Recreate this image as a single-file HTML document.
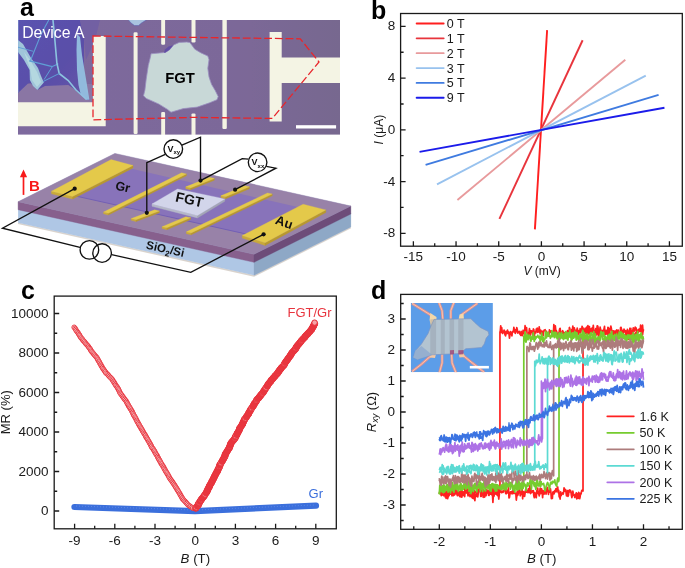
<!DOCTYPE html><html><head><meta charset="utf-8"><title>Figure</title><style>html,body{margin:0;padding:0;background:#fff;}svg{display:block;}</style></head><body>
<svg width="685" height="568" viewBox="0 0 685 568">
<rect width="685" height="568" fill="#fff"/>
<defs><clipPath id="clipPhoto"><rect x="18" y="20" width="322" height="114.8"/></clipPath><linearGradient id="gPhoto" x1="0" y1="0" x2="1" y2="0"><stop offset="0" stop-color="#7e6a9e"/><stop offset="0.65" stop-color="#7c6899"/><stop offset="1" stop-color="#77678f"/></linearGradient><linearGradient id="gGr" x1="0" y1="0" x2="1" y2="1"><stop offset="0" stop-color="#5a52b0"/><stop offset="0.6" stop-color="#5a4fa8"/><stop offset="1" stop-color="#6656a8"/></linearGradient><filter id="blurP" x="-5%" y="-5%" width="110%" height="110%"><feGaussianBlur stdDeviation="0.5"/></filter><filter id="blurAll" x="0" y="0" width="100%" height="100%"><feGaussianBlur stdDeviation="0.3"/></filter></defs>
<g clip-path="url(#clipPhoto)"><g filter="url(#blurAll)">
<rect x="18" y="20" width="322" height="114.8" fill="url(#gPhoto)"/>
<rect x="18" y="84" width="80" height="30" fill="#8a76a4"/>
<polygon points="18,20 80,20 84,40 84,70 86,90 89.6,100.2 86.3,99.8 80.8,94.8 73.3,88.6 68.3,84.9 45,86 37.3,89.9 30.5,83 28,83.6 18,93" fill="url(#gGr)"/>
<polygon points="80,20 100,20 95,40 86,60 84,40" fill="#6a5aa8" opacity="0.6"/>
<g filter="url(#blurP)" fill="none" stroke-linecap="round" stroke-linejoin="round">
<polygon points="18,40 23,44 31,58 38,68 41,76 43.8,82.6 37.3,89.9 33,86 29.9,80 29.6,70 24,60 18,52" fill="#a4cbdc" stroke="none" opacity="0.95"/>
<polygon points="24,52 30,60 37,72 41,82 37,87 32,80 30,68" fill="#bde0e2" stroke="none" opacity="0.7"/>
<path d="M18,20 V92" stroke="#8fb0dc" stroke-width="1.2" opacity="0.7"/>
<path d="M48.5,20.5 L40.9,34.6 L31.7,57.5 L30.6,60.9" stroke="#5e9fd6" stroke-width="1.1"/>
<path d="M18,47.2 L32.9,51.2" stroke="#5e9fd6" stroke-width="0.9"/>
<path d="M29.4,60.9 L52.3,66.6 L58,64" stroke="#5e9fd6" stroke-width="1.1"/>
<path d="M53,20.4 L54.6,36.9 L56.9,63.2 L59.2,73.5 L68,80.3 L76,90 L86,99" stroke="#8cc4e0" stroke-width="1.6"/>
<path d="M52.3,66.6 L44.3,79.2" stroke="#5e9fd6" stroke-width="1"/>
<path d="M59.2,73.5 L43.2,81.5" stroke="#5e9fd6" stroke-width="1"/>
<polygon points="77,34 80,37 82,55 84.5,70 86.5,82 89.4,99.8 86,99.8 80.8,94.8 78.5,85 77,70 76.5,50" fill="#94c0e0" stroke="none" opacity="0.95"/>
</g>
<polygon points="127.5,19 148,19 141.5,23 138.5,25.6 134.5,25.6 131,23" fill="#a9c3df" stroke="#5a5fb0" stroke-width="0.6"/>
<polygon points="18,102.2 92.9,102.2 92.9,36 105.7,36 105.7,126.2 18,126.2" fill="#f4f4e4"/>
<rect x="133.6" y="32.2" width="4" height="101.8" rx="1.2" fill="#f4f4e4"/>
<rect x="161.2" y="18" width="3.9" height="26.7" rx="1.2" fill="#f4f4e4"/>
<rect x="161.2" y="111.9" width="3.9" height="24.1" rx="1.2" fill="#f4f4e4"/>
<rect x="191.5" y="18" width="4" height="24.5" rx="1.2" fill="#f4f4e4"/>
<rect x="191.5" y="113.4" width="4" height="22.6" rx="1.2" fill="#f4f4e4"/>
<rect x="222.4" y="18" width="4.4" height="111" rx="1.2" fill="#f4f4e4"/>
<polygon points="269.6,31.9 281.7,31.9 281.7,57.5 342,57.5 342,83 281.7,83 281.7,121.4 269.6,121.4" fill="#f4f4e4"/>
<polygon points="151.05,53.8 165.5,52.4 169.6,49.7 173.7,44.9 179.2,42.4 186.8,42.1 189.9,42.6 194.8,49.2 201,52.9 207.8,56 209,59.7 207.8,68.3 209,76.9 211.5,84.3 215.2,90.5 218.2,96.6 217,99.7 209.6,102.8 197.3,107.1 183.3,108.6 171,112.2 167.5,109.4 158.6,103.9 146.2,98.4 143.5,95.7 144.9,90.2 146.2,79.2 148.3,65.5 150.4,57.2" fill="#c8d8d7" stroke="#9a8fc0" stroke-width="0.8"/>
<polygon points="164,53 165.5,52.4 169.6,49.7 173.2,45.2 168.5,46.5 165,49.5" fill="#5b48a8" opacity="0.8"/>
<path d="M93,36 L192,37.4 L300.3,38.8 L319,62 L272.4,118.4 L192.6,117.4 L93,119.8 Z" fill="none" stroke="#e8262c" stroke-width="1.3" stroke-dasharray="7.8 2.9"/>
<rect x="296" y="125.2" width="40.1" height="3.3" fill="#ffffff"/>
</g></g>
<text x="22.2" y="37.8" font-family='"Liberation Sans", Arial, Helvetica, sans-serif' font-size="15.8" fill="#ffffff">Device A</text>
<text x="165.3" y="83.3" font-family='"Liberation Sans", Arial, Helvetica, sans-serif' font-size="14.8" font-weight="bold" fill="#000">FGT</text>
<text x="20" y="16" font-family='"Liberation Sans", Arial, Helvetica, sans-serif' font-size="25" font-weight="bold" fill="#000">a</text>
<g font-family='"Liberation Sans", Arial, Helvetica, sans-serif'>
<path d="M18.1,223.29999999999998L254.0,275.9L350.8,227.6" stroke="#cfc8c0" stroke-width="1.6" fill="none" opacity="0.8"/>
<polygon points="18.1,201.7 114.9,153.4 350.8,206 350.8,227 254,275.3 18.1,222.7" fill="#afc7e5"/>
<polygon points="254,261.3 350.8,213 350.8,227 254,275.3" fill="#8ea8c6" stroke="#8ea8c6" stroke-width="0.3"/>
<polygon points="18.1,201.7 254,254.3 254,262.3 18.1,209.7" fill="#87608d" stroke="#87608d" stroke-width="0.4"/>
<polygon points="254,254.3 350.8,206 350.8,214 254,262.3" fill="#6d4c79" stroke="#6d4c79" stroke-width="0.4"/>
<polygon points="18.1,201.7 254,254.3 350.8,206 114.9,153.4" fill="#9882a8" stroke="#9882a8" stroke-width="0.4"/>
<polygon points="60.27,192.58 246.63,234.14 299.87,207.57 115.44,165.05" fill="#8873ba"/>
<path d="M60.265,192.58249999999998L246.62599999999998,234.13649999999998" stroke="#6f5cb4" stroke-width="0.9"/>
<polygon points="51.5,191.2 72.6,196.4 72.6,199 51.5,193.8" fill="#c9a93a" stroke="#c9a93a" stroke-width="0.4"/>
<polygon points="72.6,196.4 133,165.4 133,168 72.6,199" fill="#b8982f" stroke="#b8982f" stroke-width="0.4"/>
<polygon points="51.5,191.2 72.6,196.4 133,165.4 111.1,159.6" fill="#e4c94a" stroke="#e4c94a" stroke-width="0.3"/>
<polygon points="242.3,235.5 265.1,242.8 265.1,245.4 242.3,238.1" fill="#c9a93a" stroke="#c9a93a" stroke-width="0.4"/>
<polygon points="265.1,242.8 325.8,209.9 325.8,212.5 265.1,245.4" fill="#b8982f" stroke="#b8982f" stroke-width="0.4"/>
<polygon points="242.3,235.5 265.1,242.8 325.8,209.9 303.1,204.2" fill="#e4c94a" stroke="#e4c94a" stroke-width="0.3"/>
<polygon points="152,203.9 197.5,215.5 197.5,217.9 152,206.3" fill="#b4b7c8" stroke="#b4b7c8" stroke-width="0.4"/>
<polygon points="197.5,215.5 224.8,198.9 224.8,201.3 197.5,217.9" fill="#a3a6b6" stroke="#a3a6b6" stroke-width="0.4"/>
<polygon points="152,203.9 197.5,215.5 224.8,198.9 177.5,189" fill="#d2d5ea" stroke="#d2d5ea" stroke-width="0.3"/>
<polygon points="103.61,212.07 108.39,213.13 108.39,214.93 103.61,213.87" fill="#c9a93a" stroke="#c9a93a" stroke-width="0.4"/>
<polygon points="108.39,213.13 186.39,173.93 186.39,175.73 108.39,214.93" fill="#b8982f" stroke="#b8982f" stroke-width="0.4"/>
<polygon points="103.61,212.07 108.39,213.13 186.39,173.93 181.61,172.87" fill="#e4c94a" stroke="#e4c94a" stroke-width="0.3"/>
<polygon points="131.31,218.57 136.09,219.63 136.09,221.43 131.31,220.37" fill="#c9a93a" stroke="#c9a93a" stroke-width="0.4"/>
<polygon points="136.09,219.63 159.39,210.93 159.39,212.73 136.09,221.43" fill="#b8982f" stroke="#b8982f" stroke-width="0.4"/>
<polygon points="131.31,218.57 136.09,219.63 159.39,210.93 154.61,209.87" fill="#e4c94a" stroke="#e4c94a" stroke-width="0.3"/>
<polygon points="185.81,186.87 190.59,187.93 190.59,189.73 185.81,188.67" fill="#c9a93a" stroke="#c9a93a" stroke-width="0.4"/>
<polygon points="190.59,187.93 214.29,178.43 214.29,180.23 190.59,189.73" fill="#b8982f" stroke="#b8982f" stroke-width="0.4"/>
<polygon points="185.81,186.87 190.59,187.93 214.29,178.43 209.51,177.37" fill="#e4c94a" stroke="#e4c94a" stroke-width="0.3"/>
<polygon points="162.11,226.77 166.89,227.83 166.89,229.63 162.11,228.57" fill="#c9a93a" stroke="#c9a93a" stroke-width="0.4"/>
<polygon points="166.89,227.83 190.59,217.73 190.59,219.53 166.89,229.63" fill="#b8982f" stroke="#b8982f" stroke-width="0.4"/>
<polygon points="162.11,226.77 166.89,227.83 190.59,217.73 185.81,216.67" fill="#e4c94a" stroke="#e4c94a" stroke-width="0.3"/>
<polygon points="220.91,195.77 225.69,196.83 225.69,198.63 220.91,197.57" fill="#c9a93a" stroke="#c9a93a" stroke-width="0.4"/>
<polygon points="225.69,196.83 249.39,186.83 249.39,188.63 225.69,198.63" fill="#b8982f" stroke="#b8982f" stroke-width="0.4"/>
<polygon points="220.91,195.77 225.69,196.83 249.39,186.83 244.61,185.77" fill="#e4c94a" stroke="#e4c94a" stroke-width="0.3"/>
<polygon points="186.41,231.87 191.19,232.93 191.19,234.73 186.41,233.67" fill="#c9a93a" stroke="#c9a93a" stroke-width="0.4"/>
<polygon points="191.19,232.93 272.19,194.03 272.19,195.83 191.19,234.73" fill="#b8982f" stroke="#b8982f" stroke-width="0.4"/>
<polygon points="186.41,231.87 191.19,232.93 272.19,194.03 267.41,192.97" fill="#e4c94a" stroke="#e4c94a" stroke-width="0.3"/>
<text transform="translate(114.8,189.4) rotate(12.57)" font-size="12.6" font-weight="bold" fill="#111">Gr</text>
<text transform="translate(174.8,201.2) rotate(12.57)" font-size="14" font-weight="bold" fill="#111">FGT</text>
<text transform="translate(274.6,223.6) rotate(19)" font-size="13" font-weight="bold" fill="#111">Au</text>
<text transform="translate(145.6,248.5) rotate(12.57)" font-size="11.6" font-weight="bold" fill="#111">SiO<tspan font-size="8" dy="3">2</tspan><tspan dy="-3">/Si</tspan></text>
<g fill="none" stroke="#111" stroke-width="1.35">
<path d="M74.7,188.7 L2.5,228.2 L80,247.4"/>
<path d="M111.6,254.7 L190.8,272.3 L263.6,234.3"/>
<circle cx="89.4" cy="249.9" r="9.3"/>
<circle cx="102.1" cy="253" r="9.3"/>
<path d="M146.8,212.8 V162.7 L165.3,154.3"/>
<path d="M181.9,145.2 L200.5,137.2 V180.6"/>
<path d="M200.5,180.6 L242.2,158.6 L248.4,159.2"/>
<path d="M266.3,166.4 L275.9,168.2 L235.1,189.7"/>
<circle cx="173.3" cy="149" r="9.3" fill="#fff"/>
<circle cx="257.6" cy="162.3" r="9.3" fill="#fff"/>
</g>
<circle cx="74.7" cy="188.7" r="2.1" fill="#111"/>
<circle cx="263.6" cy="234.3" r="2.1" fill="#111"/>
<circle cx="146.8" cy="212.8" r="2.1" fill="#111"/>
<circle cx="200.5" cy="180.6" r="2.1" fill="#111"/>
<circle cx="235.1" cy="189.7" r="2.1" fill="#111"/>
<text x="167.5" y="152" font-size="9" font-weight="bold" fill="#111">V<tspan font-size="6" dy="2.3">xy</tspan></text>
<text x="251.6" y="165.3" font-size="9" font-weight="bold" fill="#111">V<tspan font-size="6" dy="2.3">xx</tspan></text>
<path d="M23.5,194.9 V176" stroke="#f81a1a" stroke-width="1.7"/>
<polygon points="23.5,169.6 19.9,177.2 27.1,177.2" fill="#f81a1a"/>
<text x="29.1" y="190.7" font-size="15" font-weight="bold" fill="#f81a1a">B</text>
</g>
<g font-family='"Liberation Sans", Arial, Helvetica, sans-serif'>
<text x="371" y="19.3" font-size="25" font-weight="bold" fill="#000">b</text>
<rect x="400.6" y="13.5" width="281.7" height="232.7" fill="none" stroke="#1a1a1a" stroke-width="1.3"/>
<path d="M413.38,246.2v-5M456.05,246.2v-5M498.72,246.2v-5M541.4,246.2v-5M584.07,246.2v-5M626.75,246.2v-5M669.42,246.2v-5M434.71,246.2v-3M477.39,246.2v-3M520.06,246.2v-3M562.74,246.2v-3M605.41,246.2v-3M648.09,246.2v-3M400.6,233.29h5M400.6,181.57h5M400.6,129.85h5M400.6,78.13h5M400.6,26.41h5M400.6,207.43h3M400.6,155.71h3M400.6,103.99h3M400.6,52.27h3" stroke="#1a1a1a" stroke-width="1.3" fill="none"/>
<text x="413.38" y="261.2" font-size="13.5" text-anchor="middle" fill="#1a1a1a">-15</text>
<text x="456.05" y="261.2" font-size="13.5" text-anchor="middle" fill="#1a1a1a">-10</text>
<text x="498.72" y="261.2" font-size="13.5" text-anchor="middle" fill="#1a1a1a">-5</text>
<text x="541.4" y="261.2" font-size="13.5" text-anchor="middle" fill="#1a1a1a">0</text>
<text x="584.07" y="261.2" font-size="13.5" text-anchor="middle" fill="#1a1a1a">5</text>
<text x="626.75" y="261.2" font-size="13.5" text-anchor="middle" fill="#1a1a1a">10</text>
<text x="669.42" y="261.2" font-size="13.5" text-anchor="middle" fill="#1a1a1a">15</text>
<text x="395.2" y="237.34" font-size="13.5" text-anchor="end" fill="#1a1a1a">-8</text>
<text x="395.2" y="185.62" font-size="13.5" text-anchor="end" fill="#1a1a1a">-4</text>
<text x="395.2" y="133.9" font-size="13.5" text-anchor="end" fill="#1a1a1a">0</text>
<text x="395.2" y="82.18" font-size="13.5" text-anchor="end" fill="#1a1a1a">4</text>
<text x="395.2" y="30.46" font-size="13.5" text-anchor="end" fill="#1a1a1a">8</text>
<path d="M534.91,229.41L547.12,30.16" stroke="#ff1f1f" stroke-width="1.9" fill="none"/>
<path d="M499.41,218.94L582.62,40.25" stroke="#e8343c" stroke-width="1.9" fill="none"/>
<path d="M457.42,200.06L625.3,59.77" stroke="#e89a9c" stroke-width="1.9" fill="none"/>
<path d="M437.02,184.29L645.78,75.54" stroke="#98c2ee" stroke-width="1.9" fill="none"/>
<path d="M425.58,164.89L658.59,94.94" stroke="#3f7be0" stroke-width="1.9" fill="none"/>
<path d="M419.52,151.83L664.47,107.74" stroke="#1b1bea" stroke-width="1.9" fill="none"/>
<path d="M416.6,23.5H443.7" stroke="#ff1f1f" stroke-width="1.8" stroke-linecap="round"/>
<text x="446.8" y="28" font-size="12.5" fill="#1a1a1a">0 T</text>
<path d="M416.6,38.35H443.7" stroke="#e8343c" stroke-width="1.8" stroke-linecap="round"/>
<text x="446.8" y="42.85" font-size="12.5" fill="#1a1a1a">1 T</text>
<path d="M416.6,53.2H443.7" stroke="#e89a9c" stroke-width="1.8" stroke-linecap="round"/>
<text x="446.8" y="57.7" font-size="12.5" fill="#1a1a1a">2 T</text>
<path d="M416.6,68.05H443.7" stroke="#98c2ee" stroke-width="1.8" stroke-linecap="round"/>
<text x="446.8" y="72.55" font-size="12.5" fill="#1a1a1a">3 T</text>
<path d="M416.6,82.9H443.7" stroke="#3f7be0" stroke-width="1.8" stroke-linecap="round"/>
<text x="446.8" y="87.4" font-size="12.5" fill="#1a1a1a">5 T</text>
<path d="M416.6,97.75H443.7" stroke="#1b1bea" stroke-width="1.8" stroke-linecap="round"/>
<text x="446.8" y="102.25" font-size="12.5" fill="#1a1a1a">9 T</text>
<text x="523.5" y="275.4" font-size="12" fill="#1a1a1a"><tspan font-style="italic">V</tspan> (mV)</text>
<text transform="translate(382.7,129.6) rotate(-90)" font-size="12" text-anchor="middle" fill="#1a1a1a"><tspan font-style="italic">I</tspan> (μA)</text>
</g>
<g font-family='"Liberation Sans", Arial, Helvetica, sans-serif'>
<text x="21" y="298.5" font-size="25" font-weight="bold" fill="#000">c</text>
<rect x="54.2" y="296.1" width="282.1" height="232.7" fill="none" stroke="#1a1a1a" stroke-width="1.3"/>
<path d="M74.6,528.8v-5M114.8,528.8v-5M155,528.8v-5M195.2,528.8v-5M235.4,528.8v-5M275.6,528.8v-5M315.8,528.8v-5M94.7,528.8v-3M134.9,528.8v-3M175.1,528.8v-3M215.3,528.8v-3M255.5,528.8v-3M295.7,528.8v-3M54.2,511h5M54.2,471.5h5M54.2,432h5M54.2,392.5h5M54.2,353h5M54.2,313.5h5M54.2,491.25h3M54.2,451.75h3M54.2,412.25h3M54.2,372.75h3M54.2,333.25h3" stroke="#1a1a1a" stroke-width="1.3" fill="none"/>
<text x="74.6" y="544.8" font-size="13.5" text-anchor="middle" fill="#1a1a1a">-9</text>
<text x="114.8" y="544.8" font-size="13.5" text-anchor="middle" fill="#1a1a1a">-6</text>
<text x="155" y="544.8" font-size="13.5" text-anchor="middle" fill="#1a1a1a">-3</text>
<text x="195.2" y="544.8" font-size="13.5" text-anchor="middle" fill="#1a1a1a">0</text>
<text x="235.4" y="544.8" font-size="13.5" text-anchor="middle" fill="#1a1a1a">3</text>
<text x="275.6" y="544.8" font-size="13.5" text-anchor="middle" fill="#1a1a1a">6</text>
<text x="315.8" y="544.8" font-size="13.5" text-anchor="middle" fill="#1a1a1a">9</text>
<text x="48.6" y="515.05" font-size="13.5" text-anchor="end" fill="#1a1a1a">0</text>
<text x="48.6" y="475.55" font-size="13.5" text-anchor="end" fill="#1a1a1a">2000</text>
<text x="48.6" y="436.05" font-size="13.5" text-anchor="end" fill="#1a1a1a">4000</text>
<text x="48.6" y="396.55" font-size="13.5" text-anchor="end" fill="#1a1a1a">6000</text>
<text x="48.6" y="357.05" font-size="13.5" text-anchor="end" fill="#1a1a1a">8000</text>
<text x="48.6" y="317.55" font-size="13.5" text-anchor="end" fill="#1a1a1a">10000</text>
<path d="M74.4,507 L195,511.2 L316,505.6" stroke="#3b6fdc" stroke-width="6.2" stroke-linecap="round" stroke-linejoin="round" fill="none"/>
<path d="M76,506 L195,510 L314,505" stroke="#7fa3ec" stroke-width="0.8" stroke-dasharray="1 2" fill="none" opacity="0.6"/>
<g fill="#fff6f6" stroke="#e8343e" stroke-width="0.95"><circle cx="74.17" cy="327.29" r="2.3"/><circle cx="75.04" cy="328.31" r="2.3"/><circle cx="75.74" cy="329.4" r="2.3"/><circle cx="76.25" cy="330.6" r="2.3"/><circle cx="77.13" cy="331.62" r="2.3"/><circle cx="77.91" cy="332.6" r="2.3"/><circle cx="78.51" cy="333.68" r="2.3"/><circle cx="79.17" cy="334.66" r="2.3"/><circle cx="79.76" cy="335.74" r="2.3"/><circle cx="80.44" cy="336.96" r="2.3"/><circle cx="81.17" cy="337.91" r="2.3"/><circle cx="82.08" cy="338.85" r="2.3"/><circle cx="82.7" cy="339.9" r="2.3"/><circle cx="83.5" cy="340.86" r="2.3"/><circle cx="84.5" cy="341.73" r="2.3"/><circle cx="85.26" cy="342.84" r="2.3"/><circle cx="85.98" cy="343.82" r="2.3"/><circle cx="86.82" cy="344.72" r="2.3"/><circle cx="87.75" cy="345.69" r="2.3"/><circle cx="88.49" cy="346.69" r="2.3"/><circle cx="89.16" cy="347.7" r="2.3"/><circle cx="89.94" cy="348.64" r="2.3"/><circle cx="90.59" cy="349.81" r="2.3"/><circle cx="91.21" cy="350.95" r="2.3"/><circle cx="91.92" cy="351.8" r="2.3"/><circle cx="92.76" cy="352.86" r="2.3"/><circle cx="93.61" cy="353.87" r="2.3"/><circle cx="94.44" cy="354.85" r="2.3"/><circle cx="95.22" cy="355.85" r="2.3"/><circle cx="96.13" cy="356.74" r="2.3"/><circle cx="96.86" cy="357.73" r="2.3"/><circle cx="97.53" cy="358.9" r="2.3"/><circle cx="98.02" cy="359.97" r="2.3"/><circle cx="98.77" cy="361.09" r="2.3"/><circle cx="99.33" cy="362.03" r="2.3"/><circle cx="99.9" cy="363.25" r="2.3"/><circle cx="100.63" cy="364.32" r="2.3"/><circle cx="101.13" cy="365.42" r="2.3"/><circle cx="101.76" cy="366.57" r="2.3"/><circle cx="102.45" cy="367.55" r="2.3"/><circle cx="103" cy="368.66" r="2.3"/><circle cx="103.75" cy="369.76" r="2.3"/><circle cx="104.58" cy="370.77" r="2.3"/><circle cx="105.27" cy="371.73" r="2.3"/><circle cx="105.84" cy="372.96" r="2.3"/><circle cx="106.98" cy="373.64" r="2.3"/><circle cx="107.87" cy="374.65" r="2.3"/><circle cx="108.6" cy="375.56" r="2.3"/><circle cx="109.42" cy="376.51" r="2.3"/><circle cx="110.38" cy="377.43" r="2.3"/><circle cx="111.2" cy="378.24" r="2.3"/><circle cx="112.12" cy="379.21" r="2.3"/><circle cx="112.76" cy="380.28" r="2.3"/><circle cx="113.35" cy="381.4" r="2.3"/><circle cx="114.17" cy="382.32" r="2.3"/><circle cx="114.71" cy="383.51" r="2.3"/><circle cx="115.4" cy="384.56" r="2.3"/><circle cx="115.99" cy="385.58" r="2.3"/><circle cx="116.85" cy="386.66" r="2.3"/><circle cx="117.49" cy="387.71" r="2.3"/><circle cx="118.1" cy="388.77" r="2.3"/><circle cx="118.69" cy="389.88" r="2.3"/><circle cx="119.25" cy="391.03" r="2.3"/><circle cx="119.83" cy="392.25" r="2.3"/><circle cx="120.29" cy="393.3" r="2.3"/><circle cx="121.1" cy="394.25" r="2.3"/><circle cx="121.87" cy="395.28" r="2.3"/><circle cx="122.55" cy="396.47" r="2.3"/><circle cx="123.41" cy="397.32" r="2.3"/><circle cx="124.03" cy="398.4" r="2.3"/><circle cx="124.7" cy="399.45" r="2.3"/><circle cx="125.61" cy="400.4" r="2.3"/><circle cx="126.43" cy="401.47" r="2.3"/><circle cx="126.88" cy="402.66" r="2.3"/><circle cx="127.5" cy="403.73" r="2.3"/><circle cx="128.13" cy="404.87" r="2.3"/><circle cx="128.63" cy="406" r="2.3"/><circle cx="129.45" cy="407.01" r="2.3"/><circle cx="130.01" cy="408.09" r="2.3"/><circle cx="130.7" cy="409.13" r="2.3"/><circle cx="131.43" cy="410.32" r="2.3"/><circle cx="132.05" cy="411.29" r="2.3"/><circle cx="132.52" cy="412.42" r="2.3"/><circle cx="133.06" cy="413.53" r="2.3"/><circle cx="133.55" cy="414.88" r="2.3"/><circle cx="134.23" cy="415.83" r="2.3"/><circle cx="134.96" cy="417.01" r="2.3"/><circle cx="135.46" cy="418.08" r="2.3"/><circle cx="136.18" cy="419.15" r="2.3"/><circle cx="136.63" cy="420.35" r="2.3"/><circle cx="137.17" cy="421.36" r="2.3"/><circle cx="137.83" cy="422.5" r="2.3"/><circle cx="138.48" cy="423.65" r="2.3"/><circle cx="139.01" cy="424.75" r="2.3"/><circle cx="139.65" cy="425.91" r="2.3"/><circle cx="140.35" cy="426.92" r="2.3"/><circle cx="140.94" cy="428" r="2.3"/><circle cx="141.55" cy="429.03" r="2.3"/><circle cx="142.28" cy="430.12" r="2.3"/><circle cx="142.82" cy="431.23" r="2.3"/><circle cx="143.4" cy="432.32" r="2.3"/><circle cx="144.1" cy="433.47" r="2.3"/><circle cx="144.8" cy="434.54" r="2.3"/><circle cx="145.48" cy="435.56" r="2.3"/><circle cx="145.92" cy="436.87" r="2.3"/><circle cx="146.64" cy="437.76" r="2.3"/><circle cx="147.31" cy="438.93" r="2.3"/><circle cx="147.85" cy="439.96" r="2.3"/><circle cx="148.61" cy="441.14" r="2.3"/><circle cx="149.23" cy="442.22" r="2.3"/><circle cx="149.85" cy="443.37" r="2.3"/><circle cx="150.45" cy="444.32" r="2.3"/><circle cx="151.05" cy="445.45" r="2.3"/><circle cx="151.44" cy="446.64" r="2.3"/><circle cx="152.15" cy="447.8" r="2.3"/><circle cx="153" cy="448.77" r="2.3"/><circle cx="153.7" cy="449.96" r="2.3"/><circle cx="154.33" cy="450.89" r="2.3"/><circle cx="154.92" cy="452.02" r="2.3"/><circle cx="155.5" cy="453.22" r="2.3"/><circle cx="156.15" cy="454.27" r="2.3"/><circle cx="156.9" cy="455.26" r="2.3"/><circle cx="157.47" cy="456.46" r="2.3"/><circle cx="157.99" cy="457.6" r="2.3"/><circle cx="158.57" cy="458.72" r="2.3"/><circle cx="159.15" cy="459.72" r="2.3"/><circle cx="159.86" cy="460.87" r="2.3"/><circle cx="160.37" cy="461.96" r="2.3"/><circle cx="161.03" cy="463.16" r="2.3"/><circle cx="161.71" cy="464.11" r="2.3"/><circle cx="162.36" cy="465.35" r="2.3"/><circle cx="163.16" cy="466.28" r="2.3"/><circle cx="163.72" cy="467.34" r="2.3"/><circle cx="164.18" cy="468.51" r="2.3"/><circle cx="164.92" cy="469.54" r="2.3"/><circle cx="165.43" cy="470.76" r="2.3"/><circle cx="166.07" cy="471.85" r="2.3"/><circle cx="166.79" cy="472.81" r="2.3"/><circle cx="167.36" cy="474.01" r="2.3"/><circle cx="168.18" cy="475.06" r="2.3"/><circle cx="168.67" cy="476.14" r="2.3"/><circle cx="169.2" cy="477.22" r="2.3"/><circle cx="169.91" cy="478.43" r="2.3"/><circle cx="170.62" cy="479.48" r="2.3"/><circle cx="171.4" cy="480.47" r="2.3"/><circle cx="172.2" cy="481.47" r="2.3"/><circle cx="172.83" cy="482.52" r="2.3"/><circle cx="173.41" cy="483.56" r="2.3"/><circle cx="174.27" cy="484.58" r="2.3"/><circle cx="174.85" cy="485.73" r="2.3"/><circle cx="175.54" cy="486.76" r="2.3"/><circle cx="176.17" cy="487.84" r="2.3"/><circle cx="176.93" cy="488.93" r="2.3"/><circle cx="177.43" cy="490" r="2.3"/><circle cx="178.19" cy="490.99" r="2.3"/><circle cx="178.78" cy="492.1" r="2.3"/><circle cx="179.63" cy="493.31" r="2.3"/><circle cx="180.13" cy="494.44" r="2.3"/><circle cx="180.76" cy="495.57" r="2.3"/><circle cx="181.4" cy="496.57" r="2.3"/><circle cx="182.07" cy="497.73" r="2.3"/><circle cx="182.51" cy="498.86" r="2.3"/><circle cx="183.47" cy="499.66" r="2.3"/><circle cx="184.3" cy="500.65" r="2.3"/><circle cx="185.18" cy="501.5" r="2.3"/><circle cx="186.01" cy="502.53" r="2.3"/><circle cx="186.76" cy="503.41" r="2.3"/><circle cx="187.58" cy="504.36" r="2.3"/><circle cx="188.6" cy="505.38" r="2.3"/><circle cx="189.77" cy="506.02" r="2.3"/><circle cx="190.61" cy="506.69" r="2.3"/><circle cx="191.71" cy="507.4" r="2.3"/><circle cx="192.65" cy="508.07" r="2.3"/><circle cx="194.11" cy="508.35" r="2.3"/><circle cx="195.29" cy="508.49" r="2.3"/></g>
<g stroke="#e8343e" stroke-width="0.9"><circle cx="195.81" cy="508.27" r="3.05" fill="#ea3a41"/><circle cx="195.94" cy="507.82" r="3.05" fill="#ea3a41"/><circle cx="196.54" cy="507.08" r="3.05" fill="#f7b9bc"/><circle cx="197.34" cy="506.21" r="3.05" fill="#ea3a41"/><circle cx="198.32" cy="505.14" r="3.05" fill="#ea3a41"/><circle cx="198.75" cy="504.34" r="3.05" fill="#f7b9bc"/><circle cx="198.19" cy="504.13" r="3.05" fill="#ea3a41"/><circle cx="199.17" cy="503.01" r="3.05" fill="#ea3a41"/><circle cx="199.64" cy="502.18" r="3.05" fill="#f7b9bc"/><circle cx="199.97" cy="501.47" r="3.05" fill="#ea3a41"/><circle cx="200.53" cy="500.73" r="3.05" fill="#ea3a41"/><circle cx="201.24" cy="499.9" r="3.05" fill="#ea3a41"/><circle cx="201.49" cy="499.35" r="3.05" fill="#f7b9bc"/><circle cx="201.77" cy="498.78" r="3.05" fill="#ea3a41"/><circle cx="202.73" cy="497.8" r="3.05" fill="#ea3a41"/><circle cx="203.43" cy="496.98" r="3.05" fill="#ea3a41"/><circle cx="203.79" cy="496.37" r="3.05" fill="#ea3a41"/><circle cx="204.52" cy="495.53" r="3.05" fill="#ea3a41"/><circle cx="204.75" cy="494.99" r="3.05" fill="#ea3a41"/><circle cx="205.28" cy="494.1" r="3.05" fill="#f7b9bc"/><circle cx="205.98" cy="493.1" r="3.05" fill="#ea3a41"/><circle cx="206.91" cy="491.97" r="3.05" fill="#ea3a41"/><circle cx="206.73" cy="491.51" r="3.05" fill="#ea3a41"/><circle cx="207.67" cy="490.37" r="3.05" fill="#ea3a41"/><circle cx="207.67" cy="489.8" r="3.05" fill="#ea3a41"/><circle cx="207.9" cy="489.09" r="3.05" fill="#ea3a41"/><circle cx="208.36" cy="488.24" r="3.05" fill="#ea3a41"/><circle cx="209.2" cy="487.16" r="3.05" fill="#ea3a41"/><circle cx="209.48" cy="486.42" r="3.05" fill="#ea3a41"/><circle cx="209.32" cy="485.94" r="3.05" fill="#ea3a41"/><circle cx="210.06" cy="484.92" r="3.05" fill="#ea3a41"/><circle cx="210.66" cy="483.99" r="3.05" fill="#ea3a41"/><circle cx="211.27" cy="483.05" r="3.05" fill="#ea3a41"/><circle cx="211.91" cy="482.09" r="3.05" fill="#ea3a41"/><circle cx="211.68" cy="481.66" r="3.05" fill="#ea3a41"/><circle cx="212.55" cy="480.56" r="3.05" fill="#ea3a41"/><circle cx="212.93" cy="479.76" r="3.05" fill="#ea3a41"/><circle cx="213.16" cy="479.05" r="3.05" fill="#ea3a41"/><circle cx="214.02" cy="477.96" r="3.05" fill="#ea3a41"/><circle cx="214.09" cy="477.34" r="3.05" fill="#ea3a41"/><circle cx="214.19" cy="476.7" r="3.05" fill="#ea3a41"/><circle cx="215.08" cy="475.58" r="3.05" fill="#ea3a41"/><circle cx="215.25" cy="474.89" r="3.05" fill="#ea3a41"/><circle cx="215.76" cy="474.01" r="3.05" fill="#ea3a41"/><circle cx="216.36" cy="473.06" r="3.05" fill="#ea3a41"/><circle cx="216.53" cy="472.38" r="3.05" fill="#ea3a41"/><circle cx="217.62" cy="471.15" r="3.05" fill="#ea3a41"/><circle cx="217.52" cy="470.62" r="3.05" fill="#ea3a41"/><circle cx="217.97" cy="469.77" r="3.05" fill="#ea3a41"/><circle cx="218.37" cy="468.95" r="3.05" fill="#ea3a41"/><circle cx="218.64" cy="468.21" r="3.05" fill="#ea3a41"/><circle cx="219.3" cy="467.23" r="3.05" fill="#ea3a41"/><circle cx="219.72" cy="466.4" r="3.05" fill="#ea3a41"/><circle cx="219.58" cy="465.9" r="3.05" fill="#f7b9bc"/><circle cx="219.64" cy="465.28" r="3.05" fill="#ea3a41"/><circle cx="220.35" cy="464.27" r="3.05" fill="#ea3a41"/><circle cx="220.8" cy="463.42" r="3.05" fill="#ea3a41"/><circle cx="221.23" cy="462.58" r="3.05" fill="#f7b9bc"/><circle cx="222.06" cy="461.5" r="3.05" fill="#ea3a41"/><circle cx="222.52" cy="460.65" r="3.05" fill="#ea3a41"/><circle cx="222.76" cy="459.93" r="3.05" fill="#ea3a41"/><circle cx="223.57" cy="458.88" r="3.05" fill="#ea3a41"/><circle cx="223.75" cy="458.19" r="3.05" fill="#ea3a41"/><circle cx="224.52" cy="457.16" r="3.05" fill="#ea3a41"/><circle cx="224.85" cy="456.39" r="3.05" fill="#ea3a41"/><circle cx="225.31" cy="455.54" r="3.05" fill="#f7b9bc"/><circle cx="224.94" cy="455.19" r="3.05" fill="#ea3a41"/><circle cx="225.14" cy="454.49" r="3.05" fill="#ea3a41"/><circle cx="225.66" cy="453.61" r="3.05" fill="#ea3a41"/><circle cx="226.44" cy="452.57" r="3.05" fill="#ea3a41"/><circle cx="226.82" cy="451.77" r="3.05" fill="#ea3a41"/><circle cx="227.43" cy="450.83" r="3.05" fill="#ea3a41"/><circle cx="227.96" cy="449.93" r="3.05" fill="#ea3a41"/><circle cx="228.51" cy="449.03" r="3.05" fill="#ea3a41"/><circle cx="229.41" cy="447.92" r="3.05" fill="#ea3a41"/><circle cx="229.47" cy="447.31" r="3.05" fill="#ea3a41"/><circle cx="229.94" cy="446.45" r="3.05" fill="#ea3a41"/><circle cx="230.04" cy="445.82" r="3.05" fill="#f7b9bc"/><circle cx="230.09" cy="445.22" r="3.05" fill="#ea3a41"/><circle cx="230.6" cy="444.42" r="3.05" fill="#ea3a41"/><circle cx="230.59" cy="443.93" r="3.05" fill="#ea3a41"/><circle cx="230.98" cy="443.21" r="3.05" fill="#ea3a41"/><circle cx="231.66" cy="442.31" r="3.05" fill="#ea3a41"/><circle cx="232.46" cy="441.34" r="3.05" fill="#ea3a41"/><circle cx="233.4" cy="440.29" r="3.05" fill="#ea3a41"/><circle cx="234.1" cy="439.38" r="3.05" fill="#ea3a41"/><circle cx="235.09" cy="438.3" r="3.05" fill="#ea3a41"/><circle cx="235.16" cy="437.76" r="3.05" fill="#f7b9bc"/><circle cx="235.62" cy="437" r="3.05" fill="#ea3a41"/><circle cx="235.38" cy="436.65" r="3.05" fill="#ea3a41"/><circle cx="236.28" cy="435.63" r="3.05" fill="#f7b9bc"/><circle cx="237.04" cy="434.68" r="3.05" fill="#ea3a41"/><circle cx="236.95" cy="434.24" r="3.05" fill="#ea3a41"/><circle cx="236.97" cy="433.74" r="3.05" fill="#ea3a41"/><circle cx="237.61" cy="432.87" r="3.05" fill="#ea3a41"/><circle cx="238.11" cy="432.08" r="3.05" fill="#ea3a41"/><circle cx="238.77" cy="431.13" r="3.05" fill="#ea3a41"/><circle cx="238.97" cy="430.43" r="3.05" fill="#ea3a41"/><circle cx="239.54" cy="429.52" r="3.05" fill="#ea3a41"/><circle cx="239.39" cy="429.04" r="3.05" fill="#ea3a41"/><circle cx="239.64" cy="428.32" r="3.05" fill="#ea3a41"/><circle cx="240.59" cy="427.18" r="3.05" fill="#ea3a41"/><circle cx="240.99" cy="426.37" r="3.05" fill="#ea3a41"/><circle cx="241.86" cy="425.28" r="3.05" fill="#ea3a41"/><circle cx="242.55" cy="424.29" r="3.05" fill="#ea3a41"/><circle cx="242.73" cy="423.61" r="3.05" fill="#ea3a41"/><circle cx="242.97" cy="422.9" r="3.05" fill="#ea3a41"/><circle cx="243.11" cy="422.25" r="3.05" fill="#ea3a41"/><circle cx="243.78" cy="421.27" r="3.05" fill="#ea3a41"/><circle cx="243.98" cy="420.58" r="3.05" fill="#ea3a41"/><circle cx="244.53" cy="419.69" r="3.05" fill="#ea3a41"/><circle cx="244.63" cy="419.13" r="3.05" fill="#ea3a41"/><circle cx="245.66" cy="418.01" r="3.05" fill="#f7b9bc"/><circle cx="246.39" cy="417.06" r="3.05" fill="#ea3a41"/><circle cx="246.61" cy="416.43" r="3.05" fill="#ea3a41"/><circle cx="247.25" cy="415.55" r="3.05" fill="#ea3a41"/><circle cx="248.11" cy="414.53" r="3.05" fill="#ea3a41"/><circle cx="248.77" cy="413.63" r="3.05" fill="#ea3a41"/><circle cx="248.69" cy="413.18" r="3.05" fill="#ea3a41"/><circle cx="248.88" cy="412.56" r="3.05" fill="#ea3a41"/><circle cx="249.48" cy="411.7" r="3.05" fill="#ea3a41"/><circle cx="250.32" cy="410.69" r="3.05" fill="#ea3a41"/><circle cx="250.46" cy="410.1" r="3.05" fill="#ea3a41"/><circle cx="250.72" cy="409.44" r="3.05" fill="#ea3a41"/><circle cx="251.66" cy="408.37" r="3.05" fill="#ea3a41"/><circle cx="252" cy="407.65" r="3.05" fill="#f7b9bc"/><circle cx="252.73" cy="406.71" r="3.05" fill="#ea3a41"/><circle cx="253.46" cy="405.76" r="3.05" fill="#ea3a41"/><circle cx="253.58" cy="405.17" r="3.05" fill="#ea3a41"/><circle cx="254.37" cy="404.19" r="3.05" fill="#ea3a41"/><circle cx="254.12" cy="403.83" r="3.05" fill="#ea3a41"/><circle cx="255.17" cy="402.69" r="3.05" fill="#ea3a41"/><circle cx="255.97" cy="401.7" r="3.05" fill="#ea3a41"/><circle cx="256.41" cy="400.93" r="3.05" fill="#ea3a41"/><circle cx="256.51" cy="400.36" r="3.05" fill="#ea3a41"/><circle cx="256.91" cy="399.73" r="3.05" fill="#f7b9bc"/><circle cx="257.44" cy="399.07" r="3.05" fill="#ea3a41"/><circle cx="258.65" cy="398.02" r="3.05" fill="#ea3a41"/><circle cx="259.07" cy="397.43" r="3.05" fill="#ea3a41"/><circle cx="259.27" cy="396.98" r="3.05" fill="#ea3a41"/><circle cx="260.14" cy="396.12" r="3.05" fill="#ea3a41"/><circle cx="260.5" cy="395.57" r="3.05" fill="#ea3a41"/><circle cx="260.86" cy="395.02" r="3.05" fill="#ea3a41"/><circle cx="261.55" cy="394.28" r="3.05" fill="#ea3a41"/><circle cx="262.13" cy="393.59" r="3.05" fill="#ea3a41"/><circle cx="262.95" cy="392.77" r="3.05" fill="#f7b9bc"/><circle cx="263.48" cy="392" r="3.05" fill="#ea3a41"/><circle cx="263.42" cy="391.54" r="3.05" fill="#ea3a41"/><circle cx="264.43" cy="390.43" r="3.05" fill="#ea3a41"/><circle cx="264.58" cy="389.83" r="3.05" fill="#ea3a41"/><circle cx="265.41" cy="388.84" r="3.05" fill="#ea3a41"/><circle cx="265.8" cy="388.1" r="3.05" fill="#ea3a41"/><circle cx="266.41" cy="387.23" r="3.05" fill="#f7b9bc"/><circle cx="267.22" cy="386.24" r="3.05" fill="#ea3a41"/><circle cx="267.42" cy="385.62" r="3.05" fill="#ea3a41"/><circle cx="267.92" cy="384.82" r="3.05" fill="#ea3a41"/><circle cx="268.71" cy="383.84" r="3.05" fill="#ea3a41"/><circle cx="268.85" cy="383.25" r="3.05" fill="#ea3a41"/><circle cx="270.19" cy="382.01" r="3.05" fill="#ea3a41"/><circle cx="270.53" cy="381.47" r="3.05" fill="#ea3a41"/><circle cx="271.14" cy="380.76" r="3.05" fill="#ea3a41"/><circle cx="271.09" cy="380.45" r="3.05" fill="#ea3a41"/><circle cx="271.64" cy="379.78" r="3.05" fill="#ea3a41"/><circle cx="272.79" cy="378.75" r="3.05" fill="#ea3a41"/><circle cx="272.9" cy="378.34" r="3.05" fill="#ea3a41"/><circle cx="273.82" cy="377.45" r="3.05" fill="#ea3a41"/><circle cx="274.44" cy="376.74" r="3.05" fill="#ea3a41"/><circle cx="275.08" cy="376.02" r="3.05" fill="#ea3a41"/><circle cx="275.4" cy="375.48" r="3.05" fill="#ea3a41"/><circle cx="276.47" cy="374.49" r="3.05" fill="#ea3a41"/><circle cx="277.31" cy="373.62" r="3.05" fill="#ea3a41"/><circle cx="277.62" cy="373.06" r="3.05" fill="#ea3a41"/><circle cx="278.09" cy="372.42" r="3.05" fill="#ea3a41"/><circle cx="278.86" cy="371.58" r="3.05" fill="#f7b9bc"/><circle cx="278.77" cy="371.27" r="3.05" fill="#ea3a41"/><circle cx="279.26" cy="370.61" r="3.05" fill="#ea3a41"/><circle cx="280.05" cy="369.77" r="3.05" fill="#ea3a41"/><circle cx="280.54" cy="369.1" r="3.05" fill="#ea3a41"/><circle cx="280.91" cy="368.52" r="3.05" fill="#ea3a41"/><circle cx="281.26" cy="367.94" r="3.05" fill="#ea3a41"/><circle cx="282.2" cy="367" r="3.05" fill="#ea3a41"/><circle cx="282.96" cy="366.18" r="3.05" fill="#ea3a41"/><circle cx="283.98" cy="365.2" r="3.05" fill="#ea3a41"/><circle cx="284.33" cy="364.53" r="3.05" fill="#ea3a41"/><circle cx="284.44" cy="364" r="3.05" fill="#ea3a41"/><circle cx="284.78" cy="363.32" r="3.05" fill="#f7b9bc"/><circle cx="285.18" cy="362.61" r="3.05" fill="#ea3a41"/><circle cx="286.08" cy="361.61" r="3.05" fill="#ea3a41"/><circle cx="286.33" cy="360.99" r="3.05" fill="#ea3a41"/><circle cx="287.33" cy="359.93" r="3.05" fill="#ea3a41"/><circle cx="287.49" cy="359.36" r="3.05" fill="#ea3a41"/><circle cx="288.33" cy="358.39" r="3.05" fill="#ea3a41"/><circle cx="288.75" cy="357.67" r="3.05" fill="#ea3a41"/><circle cx="289.43" cy="356.8" r="3.05" fill="#ea3a41"/><circle cx="290.29" cy="355.84" r="3.05" fill="#ea3a41"/><circle cx="290.49" cy="355.32" r="3.05" fill="#ea3a41"/><circle cx="290.88" cy="354.68" r="3.05" fill="#ea3a41"/><circle cx="291.04" cy="354.18" r="3.05" fill="#ea3a41"/><circle cx="291.79" cy="353.33" r="3.05" fill="#ea3a41"/><circle cx="292.01" cy="352.79" r="3.05" fill="#ea3a41"/><circle cx="292.78" cy="351.92" r="3.05" fill="#ea3a41"/><circle cx="293.86" cy="350.86" r="3.05" fill="#ea3a41"/><circle cx="294.6" cy="350.02" r="3.05" fill="#ea3a41"/><circle cx="295.47" cy="349.09" r="3.05" fill="#ea3a41"/><circle cx="295.34" cy="348.77" r="3.05" fill="#ea3a41"/><circle cx="296.14" cy="347.9" r="3.05" fill="#ea3a41"/><circle cx="296.17" cy="347.49" r="3.05" fill="#f7b9bc"/><circle cx="296.62" cy="346.83" r="3.05" fill="#ea3a41"/><circle cx="296.9" cy="346.28" r="3.05" fill="#ea3a41"/><circle cx="297.53" cy="345.51" r="3.05" fill="#ea3a41"/><circle cx="298.24" cy="344.7" r="3.05" fill="#ea3a41"/><circle cx="298.89" cy="343.92" r="3.05" fill="#ea3a41"/><circle cx="299.71" cy="343.04" r="3.05" fill="#ea3a41"/><circle cx="300.3" cy="342.3" r="3.05" fill="#ea3a41"/><circle cx="300.73" cy="341.65" r="3.05" fill="#ea3a41"/><circle cx="301.07" cy="341.06" r="3.05" fill="#ea3a41"/><circle cx="302.06" cy="340.1" r="3.05" fill="#f7b9bc"/><circle cx="302.5" cy="339.51" r="3.05" fill="#ea3a41"/><circle cx="303.23" cy="338.74" r="3.05" fill="#ea3a41"/><circle cx="304.2" cy="337.84" r="3.05" fill="#ea3a41"/><circle cx="304.94" cy="337.07" r="3.05" fill="#ea3a41"/><circle cx="305.11" cy="336.64" r="3.05" fill="#ea3a41"/><circle cx="305.73" cy="335.94" r="3.05" fill="#ea3a41"/><circle cx="306.1" cy="335.4" r="3.05" fill="#ea3a41"/><circle cx="307.5" cy="334.23" r="3.05" fill="#ea3a41"/><circle cx="307.61" cy="333.84" r="3.05" fill="#ea3a41"/><circle cx="308.29" cy="333.11" r="3.05" fill="#ea3a41"/><circle cx="309.05" cy="332.33" r="3.05" fill="#ea3a41"/><circle cx="309.95" cy="331.46" r="3.05" fill="#ea3a41"/><circle cx="310.47" cy="330.74" r="3.05" fill="#ea3a41"/><circle cx="311.67" cy="329.55" r="3.05" fill="#ea3a41"/><circle cx="311.85" cy="328.98" r="3.05" fill="#ea3a41"/><circle cx="311.98" cy="328.45" r="3.05" fill="#ea3a41"/><circle cx="312.39" cy="327.74" r="3.05" fill="#ea3a41"/><circle cx="313.12" cy="326.85" r="3.05" fill="#ea3a41"/><circle cx="313.45" cy="326.19" r="3.05" fill="#ea3a41"/><circle cx="313.66" cy="325.6" r="3.05" fill="#ea3a41"/><circle cx="313.88" cy="325.01" r="3.05" fill="#ea3a41"/><circle cx="314.5" cy="324.18" r="3.05" fill="#ea3a41"/><circle cx="314.63" cy="323.64" r="3.05" fill="#ea3a41"/></g>
<circle cx="314.6" cy="322.6" r="2.7" fill="#f4a3a7" stroke="#e8343e" stroke-width="1"/>
<text x="287.5" y="317" font-size="13" fill="#e8343e">FGT/Gr</text>
<text x="308.6" y="497.6" font-size="13" fill="#3b6fdc">Gr</text>
<text x="180.6" y="563.2" font-size="13.3" fill="#1a1a1a"><tspan font-style="italic">B</tspan> (T)</text>
<text transform="translate(10.2,412.2) rotate(-90)" font-size="13" text-anchor="middle" fill="#1a1a1a">MR (%)</text>
</g>
<g font-family='"Liberation Sans", Arial, Helvetica, sans-serif'>
<text x="371" y="298.6" font-size="25" font-weight="bold" fill="#000">d</text>
<rect x="400.7" y="294.4" width="281.6" height="234.9" fill="none" stroke="#1a1a1a" stroke-width="1.3"/>
<path d="M439.3,529.3v-5M490.35,529.3v-5M541.4,529.3v-5M592.45,529.3v-5M643.5,529.3v-5M413.77,529.3v-3M464.82,529.3v-3M515.88,529.3v-3M566.92,529.3v-3M617.97,529.3v-3M669.02,529.3v-3M400.7,505h5M400.7,474h5M400.7,443h5M400.7,412h5M400.7,381h5M400.7,350h5M400.7,319h5M400.7,520.5h3M400.7,489.5h3M400.7,458.5h3M400.7,427.5h3M400.7,396.5h3M400.7,365.5h3M400.7,334.5h3M400.7,303.5h3" stroke="#1a1a1a" stroke-width="1.3" fill="none"/>
<text x="439.3" y="545.6" font-size="13.5" text-anchor="middle" fill="#1a1a1a">-2</text>
<text x="490.35" y="545.6" font-size="13.5" text-anchor="middle" fill="#1a1a1a">-1</text>
<text x="541.4" y="545.6" font-size="13.5" text-anchor="middle" fill="#1a1a1a">0</text>
<text x="592.45" y="545.6" font-size="13.5" text-anchor="middle" fill="#1a1a1a">1</text>
<text x="643.5" y="545.6" font-size="13.5" text-anchor="middle" fill="#1a1a1a">2</text>
<text x="395.1" y="509.05" font-size="13.5" text-anchor="end" fill="#1a1a1a">-3</text>
<text x="395.1" y="478.05" font-size="13.5" text-anchor="end" fill="#1a1a1a">-2</text>
<text x="395.1" y="447.05" font-size="13.5" text-anchor="end" fill="#1a1a1a">-1</text>
<text x="395.1" y="416.05" font-size="13.5" text-anchor="end" fill="#1a1a1a">0</text>
<text x="395.1" y="385.05" font-size="13.5" text-anchor="end" fill="#1a1a1a">1</text>
<text x="395.1" y="354.05" font-size="13.5" text-anchor="end" fill="#1a1a1a">2</text>
<text x="395.1" y="323.05" font-size="13.5" text-anchor="end" fill="#1a1a1a">3</text>
<path d="M439.3,493.58 L439.79,491.76 L440.27,493.16 L440.76,493.81 L441.25,495.63 L441.74,494.28 L442.22,490.39 L442.71,491.03 L443.2,489.61 L443.69,491.26 L444.17,491.37 L444.66,491.95 L445.15,497 L445.64,491.87 L446.12,491.25 L446.61,491.09 L447.1,496.81 L447.58,498.66 L448.07,496.97 L448.56,495.35 L449.05,492.82 L449.53,492.99 L450.02,491.54 L450.51,494.18 L451,492.46 L451.48,491.72 L451.97,494.27 L452.46,488.77 L452.95,490.18 L453.43,488.92 L453.92,493.32 L454.41,494.96 L454.9,494.41 L455.38,493.62 L455.87,491.43 L456.36,491.79 L456.84,493.72 L457.33,495.65 L457.82,495.07 L458.31,490.31 L458.79,494.23 L459.28,492.63 L459.77,491.67 L460.26,496.43 L460.74,493.81 L461.23,489.7 L461.72,497.22 L462.21,495.02 L462.69,493.79 L463.18,495.29 L463.67,492.28 L464.15,492.85 L464.64,496.71 L465.13,491.83 L465.62,490.78 L466.1,489.74 L466.59,488.12 L467.08,490.48 L467.57,491.82 L468.05,495.96 L468.54,492.16 L469.03,494.25 L469.52,494.46 L470,496.66 L470.49,496.54 L470.98,495.35 L471.47,490.2 L471.95,497.4 L472.44,498.05 L472.93,493.77 L473.41,489.31 L473.9,490.25 L474.39,497.07 L474.88,500.74 L475.36,494.26 L475.85,495.2 L476.34,496.49 L476.83,491.35 L477.31,489.48 L477.8,491.41 L478.29,491.75 L478.78,491.36 L479.26,488.18 L479.75,489.8 L480.24,490.55 L480.72,490.7 L481.21,496.31 L481.7,490.49 L482.19,489.6 L482.67,490.46 L483.16,497.31 L483.65,495.83 L484.14,491.5 L484.62,497.19 L485.11,494.61 L485.6,490.66 L486.09,495.62 L486.57,489.41 L487.06,490.33 L487.55,492.46 L488.04,491.84 L488.52,490.8 L489.01,491.89 L489.5,489.51 L489.98,493.56 L490.47,494.12 L490.96,490.45 L491.45,492.02 L491.93,494.88 L492.42,490.93 L492.91,488.37 L493.4,492.64 L493.88,496.38 L494.37,494.22 L494.86,493.61 L495.35,493.82 L495.83,489.4 L496.32,494.48 L496.81,489.97 L497.29,495.28 L497.78,495.61 L498.27,491.97 L498.76,489.56 L499.24,489.55 L499.73,490.9 L500.22,491.84 L500.71,492.09 L501.19,491.06 L501.68,492.72 L502.17,492.03 L502.66,491.04 L503.14,492.25 L503.63,490.6 L504.12,490.63 L504.61,486.83 L505.09,490.13 L505.58,493.1 L506.07,493.85 L506.55,493.12 L507.04,490.44 L507.53,492.95 L508.02,491.8 L508.5,487.63 L508.99,497.98 L509.48,497.29 L509.97,493.47 L510.45,491.92 L510.94,491.88 L511.43,493.63 L511.92,491.29 L512.4,491.57 L512.89,493.77 L513.38,486.65 L513.86,489.98 L514.35,493.38 L514.84,493.2 L515.33,493.48 L515.81,493.13 L516.3,500.05 L516.79,496.22 L517.28,491.13 L517.76,495.33 L518.25,493.69 L518.74,490.51 L519.23,489.81 L519.71,487.93 L520.2,495.78 L520.69,494.58 L521.17,494.18 L521.66,491.53 L522.15,489.49 L522.64,498.83 L523.12,491.69 L523.61,496.23 L524.1,491.98 L524.59,496.43 L525.07,493.37 L525.56,489.77 L526.05,492.23 L526.54,492.07 L527.02,490.42 L527.51,491.66 L528,492.63 L528.49,488.65 L528.97,488.73 L529.46,492.29 L529.95,485.35 L530.43,493.53 L530.92,490.55 L531.41,492.76 L531.9,492.38 L532.38,490.75 L532.87,491.53 L533.36,490.67 L533.85,496.12 L534.33,497.71 L534.82,492.58 L535.31,495.2 L535.8,496.16 L536.28,497.61 L536.77,490.84 L537.26,490.17 L537.74,488.06 L538.23,493.78 L538.72,493.02 L539.21,495.8 L539.69,491.6 L540.18,488.18 L540.67,493.68 L541.16,488.88 L541.64,488.94 L542.13,492.03 L542.62,497.69 L543.11,490.48 L543.59,492.28 L544.08,494.15 L544.57,492.07 L545.06,491.42 L545.54,488.35 L546.03,494.07 L546.52,490.1 L547,487.98 L547.49,487.44 L547.98,491.58 L548.47,494.31 L548.95,490.48 L549.44,491.71 L549.93,492.06 L550.42,488.73 L550.9,492.18 L551.39,498.57 L551.88,495.46 L552.37,498.39 L552.85,492.22 L553.34,491.7 L553.83,493.98 L554.31,493.08 L554.8,490.59 L555.29,491.83 L555.78,488.91 L556.26,491.7 L556.75,489.63 L557.24,487.82 L557.73,486.96 L558.21,492.72 L558.7,490.35 L559.19,496.9 L559.68,496.78 L560.16,499.06 L560.65,491.75 L561.14,495.62 L561.63,493.57 L562.11,493.43 L562.6,492.95 L563.09,494.29 L563.57,492.52 L564.06,487.88 L564.55,491.1 L565.04,490.78 L565.52,489.44 L566.01,492.2 L566.5,495.82 L566.99,495.05 L567.47,490.53 L567.96,496.34 L568.45,495.32 L568.94,490.78 L569.42,489.99 L569.91,491.81 L570.4,490.26 L570.88,491.48 L571.37,495.39 L571.86,497.57 L572.35,495.79 L572.83,491.14 L573.32,493.67 L573.81,495.31 L574.3,495.46 L574.78,497.51 L575.27,494.39 L575.76,496.26 L576.25,492.75 L576.73,498.87 L577.22,493.63 L577.71,494.61 L578.19,498.33 L578.68,492.41 L579.17,493.28 L579.66,498.68 L580.14,496.73 L580.63,493.08 L581.12,493.95 L581.61,490.95 L582.09,490.14 L582.58,490.11 L583.01,490.99 L583.01,328.02 L583.07,329.08 L583.56,329.95 L584.04,336.89 L584.53,331.12 L585.02,328.3 L585.51,331.69 L585.99,333.16 L586.48,327.25 L586.97,335.22 L587.45,331.74 L587.94,325.55 L588.43,332.52 L588.92,330.35 L589.4,326.55 L589.89,330.7 L590.38,330.14 L590.87,329.08 L591.35,333.52 L591.84,332.71 L592.33,331.45 L592.82,329.68 L593.3,331.41 L593.79,332.35 L594.28,334.8 L594.76,333.8 L595.25,330.2 L595.74,331.21 L596.23,334.02 L596.71,334.84 L597.2,325.84 L597.69,327.16 L598.18,328.88 L598.66,337.91 L599.15,332.15 L599.64,330.79 L600.13,327.21 L600.61,329.45 L601.1,331.43 L601.59,330.47 L602.08,336.68 L602.56,330.69 L603.05,330.77 L603.54,333.49 L604.02,328.97 L604.51,326.34 L605,334.01 L605.49,334.37 L605.97,331.96 L606.46,331.52 L606.95,332.92 L607.44,334.86 L607.92,327.28 L608.41,327.87 L608.9,333.92 L609.39,336.13 L609.87,328.77 L610.36,328.44 L610.85,326.15 L611.33,328.12 L611.82,333.15 L612.31,331.67 L612.8,337.61 L613.28,335.67 L613.77,333.27 L614.26,331.02 L614.75,333.64 L615.23,332.83 L615.72,331.06 L616.21,330.74 L616.7,329.95 L617.18,330.85 L617.67,332.52 L618.16,330.09 L618.65,331.31 L619.13,333.98 L619.62,334.26 L620.11,332.69 L620.59,332.51 L621.08,331.75 L621.57,331.94 L622.06,331.53 L622.54,332.23 L623.03,335.4 L623.52,331.92 L624.01,329.21 L624.49,330.03 L624.98,331.92 L625.47,330.81 L625.96,334.2 L626.44,337.67 L626.93,333.56 L627.42,334.93 L627.9,330.94 L628.39,334.55 L628.88,339.71 L629.37,337.07 L629.85,329.38 L630.34,332.23 L630.83,335.69 L631.32,335.13 L631.8,331.58 L632.29,330.58 L632.78,331.12 L633.27,327.84 L633.75,328.9 L634.24,331.14 L634.73,330.18 L635.22,327.11 L635.7,327.99 L636.19,328.11 L636.68,333.7 L637.16,332.92 L637.65,330.37 L638.14,332.3 L638.63,329.29 L639.11,329.63 L639.6,328.91 L640.09,331.65 L640.58,325.2 L641.06,326.71 L641.55,330.99 L642.04,331.47 L642.53,325.02 L643.01,330.82 L643.5,329.36" stroke="#ff2020" stroke-width="1.7" stroke-linejoin="round" fill="none"/>
<path d="M643.5,329.44 L643.01,331.23 L642.53,334.86 L642.04,332.38 L641.55,331.18 L641.06,328.79 L640.58,328.99 L640.09,331.05 L639.6,329.48 L639.11,329.84 L638.63,330.82 L638.14,331.52 L637.65,332.51 L637.16,330.36 L636.68,334.3 L636.19,334.36 L635.7,332.71 L635.22,336.08 L634.73,334.39 L634.24,338.02 L633.75,335.62 L633.27,331.6 L632.78,330.4 L632.29,331.68 L631.8,332.53 L631.32,335.91 L630.83,328.37 L630.34,329.57 L629.85,328.4 L629.37,333.26 L628.88,332.88 L628.39,337.07 L627.9,331.48 L627.42,329.39 L626.93,336.23 L626.44,333.42 L625.96,330.78 L625.47,336.29 L624.98,338.11 L624.49,336.65 L624.01,335.07 L623.52,336.63 L623.03,333.32 L622.54,331.75 L622.06,330.27 L621.57,329.64 L621.08,327.35 L620.59,327.55 L620.11,334.14 L619.62,333.99 L619.13,335.4 L618.65,335.87 L618.16,333.39 L617.67,332.42 L617.18,330.85 L616.7,335.85 L616.21,336.43 L615.72,333.4 L615.23,332.96 L614.75,333.12 L614.26,332.52 L613.77,334.17 L613.28,330.82 L612.8,330.73 L612.31,331.86 L611.82,333.74 L611.33,333 L610.85,339.48 L610.36,336.85 L609.87,333.37 L609.39,336.39 L608.9,332.8 L608.41,331.87 L607.92,335.6 L607.44,333.76 L606.95,333.37 L606.46,331.21 L605.97,330.17 L605.49,331.56 L605,334.12 L604.51,333.03 L604.02,332.5 L603.54,330.23 L603.05,330.71 L602.56,333.53 L602.08,336.04 L601.59,334.21 L601.1,334.63 L600.61,335.73 L600.13,333.44 L599.64,333.74 L599.15,332.26 L598.66,330.71 L598.18,332.72 L597.69,326.1 L597.2,331.09 L596.71,328.84 L596.23,330.75 L595.74,328.7 L595.25,337.28 L594.76,335.58 L594.28,332.44 L593.79,330.56 L593.3,325.42 L592.82,329.19 L592.33,327.8 L591.84,328.73 L591.35,328.54 L590.87,329.63 L590.38,331.71 L589.89,330.59 L589.4,334.43 L588.92,329.63 L588.43,333.98 L587.94,331.95 L587.45,326.41 L586.97,330.93 L586.48,331.64 L585.99,328.84 L585.51,331 L585.02,333.84 L584.53,331.89 L584.04,330.45 L583.56,329.68 L583.07,333.35 L582.58,327.8 L582.09,326.36 L581.61,330.27 L581.12,330.79 L580.63,332.78 L580.14,328.52 L579.66,332.83 L579.17,330.49 L578.68,332.82 L578.19,334.09 L577.71,330.75 L577.22,328.12 L576.73,330.88 L576.25,333.46 L575.76,330.31 L575.27,331.64 L574.78,331.09 L574.3,327.73 L573.81,327.75 L573.32,332.11 L572.83,326.03 L572.35,330.21 L571.86,329.41 L571.37,332.94 L570.88,332.41 L570.4,336.75 L569.91,328.73 L569.42,327.43 L568.94,333.85 L568.45,336.53 L567.96,337.65 L567.47,330.61 L566.99,332.81 L566.5,332.42 L566.01,332.96 L565.52,332.62 L565.04,335.07 L564.55,332.87 L564.06,336.06 L563.57,333.42 L563.09,331.63 L562.6,330.67 L562.11,332.23 L561.63,334.46 L561.14,332.33 L560.65,333.39 L560.16,328.31 L559.68,328.88 L559.19,331.38 L558.7,333.07 L558.21,334.19 L557.73,335.14 L557.24,333.89 L556.75,331.8 L556.26,330.6 L555.78,330.09 L555.29,325.91 L554.8,332.04 L554.31,331.99 L553.83,324.65 L553.34,334.73 L552.85,334.21 L552.37,332.23 L551.88,331.68 L551.39,330.84 L550.9,332.3 L550.42,331.14 L549.93,331.62 L549.44,329.87 L548.95,336.36 L548.47,335.65 L547.98,333.12 L547.49,335.07 L547,335.69 L546.52,331.47 L546.03,333.57 L545.54,330.81 L545.06,329.69 L544.57,330.51 L544.08,330.23 L543.59,331.76 L543.11,335.65 L542.62,333.19 L542.13,331.17 L541.64,333.16 L541.16,332.62 L540.67,330.23 L540.18,333.8 L539.69,330.87 L539.21,326.77 L538.72,331.91 L538.23,331.6 L537.74,332.29 L537.26,328.04 L536.77,329.99 L536.28,329.05 L535.8,332.95 L535.31,332.34 L534.82,332.14 L534.33,336.74 L533.85,329.64 L533.36,328.94 L532.87,335.7 L532.38,331.16 L531.9,332.11 L531.41,330.87 L530.92,330.71 L530.43,335.58 L529.95,333.65 L529.46,328.57 L528.97,332.5 L528.49,334.86 L528,336.45 L527.51,336.57 L527.02,332.5 L526.54,327.7 L526.05,329.59 L525.56,330.65 L525.07,325.72 L524.59,331.5 L524.1,333.64 L523.61,331.11 L523.12,330.3 L522.64,334.18 L522.15,335.75 L521.66,332.37 L521.17,331.47 L520.69,335.3 L520.2,333.54 L519.71,333.9 L519.23,331.37 L518.74,332.13 L518.25,332.28 L517.76,333.03 L517.28,329.55 L516.79,327.61 L516.3,331.66 L515.81,329.68 L515.33,333.32 L514.84,332.22 L514.35,330.1 L513.86,327.46 L513.38,331.66 L512.89,332.11 L512.4,331.53 L511.92,335.82 L511.43,333.12 L510.94,334.13 L510.45,331.67 L509.97,334.89 L509.48,338.09 L508.99,333.74 L508.5,331.85 L508.02,333.42 L507.53,330.1 L507.04,332.16 L506.55,333.66 L506.07,331.25 L505.58,335.92 L505.09,334.98 L504.61,332.96 L504.12,330.07 L503.63,331.86 L503.14,331.16 L502.66,333.49 L502.17,331.67 L501.68,327.53 L501.19,332.48 L500.71,325.92 L500.22,331.89 L499.95,331.94 L499.95,492.3 L499.73,489.94 L499.24,495.19 L498.76,499.04 L498.27,493.06 L497.78,490.77 L497.29,490.54 L496.81,485.18 L496.32,489.97 L495.83,491.27 L495.35,489.89 L494.86,490.95 L494.37,487.85 L493.88,494.57 L493.4,494.32 L492.91,502.33 L492.42,493.51 L491.93,493.99 L491.45,490.72 L490.96,486.5 L490.47,490.93 L489.98,492.91 L489.5,494.15 L489.01,495.42 L488.52,495.25 L488.04,491.85 L487.55,492.42 L487.06,492.52 L486.57,493.18 L486.09,490.51 L485.6,490.82 L485.11,492.59 L484.62,490.99 L484.14,492.67 L483.65,495.81 L483.16,489.88 L482.67,490.71 L482.19,494.71 L481.7,490.54 L481.21,491.23 L480.72,496.47 L480.24,489.67 L479.75,491 L479.26,489.93 L478.78,491.43 L478.29,492.8 L477.8,496.9 L477.31,491.49 L476.83,492.35 L476.34,493.44 L475.85,492.09 L475.36,492.4 L474.88,490.92 L474.39,493.24 L473.9,493.05 L473.41,498.54 L472.93,495.66 L472.44,491.91 L471.95,489.04 L471.47,492.66 L470.98,493.11 L470.49,488.75 L470,492.47 L469.52,490.8 L469.03,487.81 L468.54,491.23 L468.05,489.13 L467.57,493.61 L467.08,492.53 L466.59,492.96 L466.1,492.58 L465.62,489.8 L465.13,485.64 L464.64,492.44 L464.15,494.25 L463.67,491.96 L463.18,495.37 L462.69,492.3 L462.21,491.19 L461.72,493.09 L461.23,491.53 L460.74,496.55 L460.26,491.97 L459.77,496.67 L459.28,495.84 L458.79,495.23 L458.31,494.63 L457.82,491.14 L457.33,492.14 L456.84,493.7 L456.36,491.69 L455.87,488.35 L455.38,491.5 L454.9,491.5 L454.41,489.2 L453.92,491.07 L453.43,495.72 L452.95,487.17 L452.46,485.35 L451.97,495.85 L451.48,493.88 L451,492.08 L450.51,490.1 L450.02,490.29 L449.53,492.83 L449.05,495.65 L448.56,493.45 L448.07,490.33 L447.58,495 L447.1,496.23 L446.61,493.96 L446.12,498.32 L445.64,495.21 L445.15,494.74 L444.66,492.26 L444.17,494.56 L443.69,495.72 L443.2,494.79 L442.71,493.6 L442.22,494.86 L441.74,493.46 L441.25,491.1 L440.76,489.24 L440.27,487.32 L439.79,493.3 L439.3,494.13" stroke="#ff2020" stroke-width="1.7" stroke-linejoin="round" fill="none"/>
<path d="M439.3,494.42 L439.79,485.38 L440.27,489.16 L440.76,488.56 L441.25,486.99 L441.74,491.17 L442.22,487.89 L442.71,488.11 L443.2,492.62 L443.69,488.71 L444.17,485.29 L444.66,491.84 L445.15,487.16 L445.64,487.22 L446.12,486.57 L446.61,486.44 L447.1,484.25 L447.58,487.36 L448.07,485.56 L448.56,488.19 L449.05,486.15 L449.53,489.34 L450.02,488.54 L450.51,483.72 L451,485.45 L451.48,487.45 L451.97,490.48 L452.46,490.5 L452.95,488.05 L453.43,485.45 L453.92,485.93 L454.41,485.82 L454.9,487.17 L455.38,484.11 L455.87,487.5 L456.36,488.89 L456.84,485.73 L457.33,486.82 L457.82,487.97 L458.31,489.05 L458.79,488.56 L459.28,486.22 L459.77,486.17 L460.26,490.02 L460.74,487.1 L461.23,486.83 L461.72,489.65 L462.21,486.09 L462.69,487.62 L463.18,488.2 L463.67,485.56 L464.15,483.45 L464.64,487.78 L465.13,486.27 L465.62,489.07 L466.1,481.98 L466.59,486.8 L467.08,484.05 L467.57,487.78 L468.05,485.26 L468.54,481 L469.03,491.52 L469.52,489.43 L470,486.47 L470.49,487.04 L470.98,488.63 L471.47,482.09 L471.95,485.26 L472.44,490.47 L472.93,485.82 L473.41,490.8 L473.9,485.16 L474.39,487.74 L474.88,486.71 L475.36,483.61 L475.85,485.51 L476.34,489.8 L476.83,491.83 L477.31,485.29 L477.8,484.41 L478.29,487.99 L478.78,484.9 L479.26,484.85 L479.75,484.45 L480.24,491.53 L480.72,488.78 L481.21,484.96 L481.7,484.22 L482.19,483.61 L482.67,491.7 L483.16,487.59 L483.65,485.55 L484.14,479.81 L484.62,486.77 L485.11,487.29 L485.6,486.53 L486.09,484.18 L486.57,486.76 L487.06,483.57 L487.55,487.4 L488.04,485.92 L488.52,487.43 L489.01,486.17 L489.5,487.88 L489.98,490.63 L490.47,484.77 L490.96,484.96 L491.45,487.14 L491.93,485.89 L492.42,483.55 L492.91,487.71 L493.4,486.79 L493.88,484.89 L494.37,484.34 L494.86,486.3 L495.35,491.27 L495.83,484.43 L496.32,484.64 L496.81,485.47 L497.29,486.42 L497.78,485.35 L498.27,486.73 L498.76,488.61 L499.24,488.46 L499.73,488.04 L500.22,487.94 L500.71,489.25 L501.19,485.18 L501.68,488.77 L502.17,484.95 L502.66,487.94 L503.14,485.43 L503.63,482.13 L504.12,484.03 L504.61,486.9 L505.09,485.82 L505.58,485.23 L506.07,489.71 L506.55,488.25 L507.04,485.88 L507.53,486.72 L508.02,485.6 L508.5,483.63 L508.99,482.94 L509.48,482.38 L509.97,482.98 L510.45,485.32 L510.94,485.34 L511.43,485.96 L511.92,486.23 L512.4,485.97 L512.89,489.71 L513.38,487.37 L513.86,485.88 L514.35,487.78 L514.84,485.98 L515.33,484.09 L515.81,485.19 L516.3,479.95 L516.79,489.98 L517.28,487.02 L517.76,490.13 L518.25,484.1 L518.74,478.12 L519.23,489.1 L519.71,485.86 L520.2,483.9 L520.69,485.34 L521.17,483.63 L521.66,490.04 L522.15,484.27 L522.64,483.72 L523.12,484.4 L523.61,486.11 L524.1,483.57 L524.59,485.58 L525.07,484.41 L525.56,485.86 L526.05,490.59 L526.54,486.5 L527.02,484.68 L527.51,482.75 L528,486.2 L528.49,485.13 L528.97,483.18 L529.46,483.76 L529.95,481.19 L530.43,478.55 L530.92,484.94 L531.41,489.35 L531.9,483.77 L532.38,480.41 L532.87,480.9 L533.36,481.3 L533.85,484.96 L534.33,486.28 L534.82,482.69 L535.31,486.06 L535.8,489.29 L536.28,488.22 L536.77,479.24 L537.26,477.94 L537.74,484 L538.23,485.92 L538.72,484.09 L539.21,485.96 L539.69,481.4 L540.18,483.47 L540.67,486.57 L541.16,481.55 L541.64,484.72 L542.13,483.66 L542.62,483.91 L543.11,484.72 L543.59,483.36 L544.08,485.46 L544.57,488.94 L545.06,490.87 L545.54,489.1 L546.03,487.29 L546.52,484.91 L547,483.99 L547.49,482.46 L547.98,483.06 L548.47,485.5 L548.95,486 L549.44,489.64 L549.93,485.88 L550.42,483.11 L550.9,482.16 L551.39,483.47 L551.88,483.99 L552.37,481.37 L552.85,482.86 L553.34,481.5 L553.83,481.46 L554.31,482.35 L554.8,479.89 L555.29,483.8 L555.78,484.43 L556.26,485.72 L556.75,486.06 L557.24,480.31 L557.73,478.07 L558.21,481.69 L558.7,481.41 L559.01,479.81 L559.01,333.68 L559.19,332.82 L559.68,338.69 L560.16,338.91 L560.65,336.27 L561.14,333.05 L561.63,335.38 L562.11,338.48 L562.6,338.16 L563.09,338.82 L563.57,339.52 L564.06,333.88 L564.55,337.46 L565.04,336.94 L565.52,331.48 L566.01,332.26 L566.5,334.61 L566.99,337.67 L567.47,336.05 L567.96,332.57 L568.45,334 L568.94,332.85 L569.42,335.4 L569.91,335.13 L570.4,336.83 L570.88,335.78 L571.37,333.31 L571.86,339.34 L572.35,337.76 L572.83,336.54 L573.32,338.19 L573.81,338.04 L574.3,335.28 L574.78,331.44 L575.27,333.7 L575.76,335.13 L576.25,340.22 L576.73,333.12 L577.22,335.59 L577.71,336.6 L578.19,339.6 L578.68,337.87 L579.17,339.94 L579.66,337.66 L580.14,336 L580.63,336.59 L581.12,336.15 L581.61,338.83 L582.09,333.98 L582.58,337.69 L583.07,341.7 L583.56,338.86 L584.04,339.44 L584.53,340.23 L585.02,338.85 L585.51,336.83 L585.99,339.89 L586.48,338.21 L586.97,333.84 L587.45,334.37 L587.94,336.61 L588.43,336.59 L588.92,337.2 L589.4,337.21 L589.89,335.28 L590.38,336.75 L590.87,342.93 L591.35,338.88 L591.84,339.82 L592.33,336.28 L592.82,338.35 L593.3,337.09 L593.79,331.69 L594.28,338.07 L594.76,340.18 L595.25,341.53 L595.74,344.37 L596.23,343.95 L596.71,338.26 L597.2,339.05 L597.69,342.34 L598.18,342.37 L598.66,337.18 L599.15,339.08 L599.64,338.64 L600.13,336.78 L600.61,333.68 L601.1,331.3 L601.59,332.85 L602.08,335.52 L602.56,336.22 L603.05,332.43 L603.54,332.22 L604.02,336.47 L604.51,335.84 L605,336.08 L605.49,336.74 L605.97,338.31 L606.46,340.84 L606.95,339.63 L607.44,341.78 L607.92,335.56 L608.41,335.41 L608.9,339.68 L609.39,334.52 L609.87,334.22 L610.36,341.08 L610.85,333.84 L611.33,334.23 L611.82,331.24 L612.31,338.52 L612.8,336.34 L613.28,335.95 L613.77,336.39 L614.26,336.6 L614.75,334.48 L615.23,340.17 L615.72,341.25 L616.21,341.96 L616.7,340.1 L617.18,339.66 L617.67,337.12 L618.16,336.61 L618.65,337.05 L619.13,338.94 L619.62,338.93 L620.11,335.47 L620.59,334.9 L621.08,336.38 L621.57,337.88 L622.06,333.68 L622.54,337.75 L623.03,335.89 L623.52,334.08 L624.01,337.06 L624.49,335.26 L624.98,339.53 L625.47,335.54 L625.96,336.36 L626.44,341.04 L626.93,336.85 L627.42,339.47 L627.9,334.87 L628.39,338.36 L628.88,338.13 L629.37,336.96 L629.85,338.13 L630.34,337.02 L630.83,338.71 L631.32,336.18 L631.8,337.08 L632.29,336.84 L632.78,344.12 L633.27,336.6 L633.75,337.15 L634.24,341.82 L634.73,338.57 L635.22,336.67 L635.7,334.61 L636.19,339.34 L636.68,334.24 L637.16,336.94 L637.65,331.42 L638.14,336.07 L638.63,335.42 L639.11,337.83 L639.6,340.41 L640.09,335.7 L640.58,334.76 L641.06,332.92 L641.55,334.06 L642.04,337.95 L642.53,341.82 L643.01,340.48 L643.5,340.14" stroke="#76cc2e" stroke-width="1.7" stroke-linejoin="round" fill="none"/>
<path d="M643.5,339.62 L643.01,336.76 L642.53,336.53 L642.04,337.93 L641.55,337.26 L641.06,337.84 L640.58,337.12 L640.09,335.57 L639.6,334.58 L639.11,338.36 L638.63,341.53 L638.14,335.2 L637.65,336.55 L637.16,334.5 L636.68,340.69 L636.19,339.29 L635.7,337.98 L635.22,341.23 L634.73,339.9 L634.24,336.43 L633.75,334.5 L633.27,332.64 L632.78,338.17 L632.29,341.16 L631.8,337.29 L631.32,335.09 L630.83,336.27 L630.34,340.33 L629.85,336.38 L629.37,335.16 L628.88,335.39 L628.39,338.03 L627.9,336.86 L627.42,335.3 L626.93,338.17 L626.44,342.22 L625.96,338.04 L625.47,336.41 L624.98,337.07 L624.49,335.1 L624.01,338.16 L623.52,337.83 L623.03,338.27 L622.54,336.23 L622.06,333.08 L621.57,336.71 L621.08,332.07 L620.59,331.98 L620.11,333.78 L619.62,334.82 L619.13,332.2 L618.65,336.25 L618.16,337.29 L617.67,339.95 L617.18,336.94 L616.7,333.87 L616.21,334.96 L615.72,335.56 L615.23,337.28 L614.75,336.87 L614.26,340.7 L613.77,335.71 L613.28,337.83 L612.8,340.18 L612.31,340.01 L611.82,340.14 L611.33,336.01 L610.85,334.26 L610.36,339.72 L609.87,335.69 L609.39,334.58 L608.9,337.88 L608.41,341.11 L607.92,340.24 L607.44,339.7 L606.95,337.11 L606.46,338.07 L605.97,342.5 L605.49,338.21 L605,341.31 L604.51,336.18 L604.02,339.88 L603.54,339.71 L603.05,340.06 L602.56,339.38 L602.08,334.61 L601.59,334.29 L601.1,334.8 L600.61,335.66 L600.13,340.54 L599.64,339.45 L599.15,339.2 L598.66,340.18 L598.18,336.78 L597.69,338.86 L597.2,339.4 L596.71,340.39 L596.23,343.2 L595.74,337.45 L595.25,333.9 L594.76,335.7 L594.28,339.09 L593.79,344.4 L593.3,338.84 L592.82,334.59 L592.33,335.59 L591.84,334.32 L591.35,332.57 L590.87,332.91 L590.38,336.9 L589.89,334.39 L589.4,334.32 L588.92,340.03 L588.43,338.93 L587.94,341.13 L587.45,338.52 L586.97,336.03 L586.48,339.36 L585.99,342.81 L585.51,335.52 L585.02,335.62 L584.53,332.93 L584.04,339.05 L583.56,334.97 L583.07,331.23 L582.58,330.27 L582.09,335.47 L581.61,335.84 L581.12,337 L580.63,334.49 L580.14,333.63 L579.66,335.73 L579.17,339.94 L578.68,335.99 L578.19,337.81 L577.71,335.62 L577.22,335.87 L576.73,332.57 L576.25,332.78 L575.76,336.78 L575.27,335.99 L574.78,332.24 L574.3,336.82 L573.81,335.78 L573.32,333.59 L572.83,332.77 L572.35,334.35 L571.86,339.38 L571.37,340.74 L570.88,337.4 L570.4,336.05 L569.91,330.28 L569.42,337 L568.94,334.06 L568.45,334.08 L567.96,340.14 L567.47,339.84 L566.99,337.3 L566.5,338.18 L566.01,337.59 L565.52,335.86 L565.04,338.52 L564.55,336.14 L564.06,338.16 L563.57,338.54 L563.09,335.97 L562.6,337.94 L562.11,336.4 L561.63,332.68 L561.14,335.46 L560.65,336.72 L560.16,334.91 L559.68,337.09 L559.19,334.15 L558.7,339.13 L558.21,335.9 L557.73,337.74 L557.24,339 L556.75,333 L556.26,337.69 L555.78,332.63 L555.29,333.84 L554.8,332.22 L554.31,337.76 L553.83,334.02 L553.34,332.26 L552.85,335.63 L552.37,336.67 L551.88,330.56 L551.39,334.38 L550.9,337.01 L550.42,338.31 L549.93,336.03 L549.44,335.62 L548.95,335.88 L548.47,332.12 L547.98,336.08 L547.49,335.27 L547,332.58 L546.52,337.88 L546.03,334.4 L545.54,331.38 L545.06,338.38 L544.57,339.84 L544.08,340.12 L543.59,342.21 L543.11,337.13 L542.62,341.33 L542.13,336.75 L541.64,333 L541.16,339.48 L540.67,338.2 L540.18,341.79 L539.69,336.17 L539.21,338.24 L538.72,337.69 L538.23,336.73 L537.74,335.22 L537.26,336.97 L536.77,336.6 L536.28,337.88 L535.8,336.62 L535.31,339.43 L534.82,337.2 L534.33,341.48 L533.85,339.18 L533.36,332.52 L532.87,335.08 L532.38,339.16 L531.9,336.62 L531.41,338.9 L530.92,341.27 L530.43,339.71 L529.95,335.58 L529.46,335.21 L528.97,336.29 L528.49,338.67 L528,339.76 L527.51,334.06 L527.02,335.08 L526.54,338.36 L526.05,342.21 L525.56,341.52 L525.07,331.78 L524.59,337.84 L524.1,336.99 L523.79,336.03 L523.79,485.05 L523.61,485.54 L523.12,488.43 L522.64,488.51 L522.15,481.75 L521.66,485.8 L521.17,483.06 L520.69,488.55 L520.2,486.69 L519.71,484.81 L519.23,482.34 L518.74,486.97 L518.25,484.11 L517.76,483.79 L517.28,486.49 L516.79,484.31 L516.3,487.07 L515.81,487.67 L515.33,485.93 L514.84,492.11 L514.35,487.52 L513.86,488.36 L513.38,489.78 L512.89,487.64 L512.4,484.07 L511.92,485.91 L511.43,482.33 L510.94,487.28 L510.45,489.16 L509.97,482.64 L509.48,483.56 L508.99,482.49 L508.5,486.58 L508.02,483.77 L507.53,484.3 L507.04,483.5 L506.55,484.83 L506.07,482.31 L505.58,486.17 L505.09,488.12 L504.61,489.99 L504.12,484.03 L503.63,486.96 L503.14,488.61 L502.66,488.86 L502.17,487.73 L501.68,489.45 L501.19,487.55 L500.71,487.83 L500.22,487.74 L499.73,488.74 L499.24,486.58 L498.76,487.18 L498.27,485.95 L497.78,485.26 L497.29,484.84 L496.81,491 L496.32,488.76 L495.83,488.75 L495.35,484.87 L494.86,489.55 L494.37,488.83 L493.88,487.58 L493.4,487.33 L492.91,483.97 L492.42,486.54 L491.93,483.83 L491.45,489.06 L490.96,491.5 L490.47,484.73 L489.98,484.66 L489.5,484.52 L489.01,485.4 L488.52,484.78 L488.04,488.82 L487.55,484.68 L487.06,487.13 L486.57,484.11 L486.09,485.45 L485.6,490.97 L485.11,490.94 L484.62,484.96 L484.14,486.31 L483.65,487.38 L483.16,486.13 L482.67,487.42 L482.19,488.12 L481.7,486.74 L481.21,486.24 L480.72,482.7 L480.24,485.3 L479.75,481.54 L479.26,480.62 L478.78,480.57 L478.29,482.2 L477.8,485.01 L477.31,485.85 L476.83,486.81 L476.34,488.57 L475.85,487.46 L475.36,488.57 L474.88,483.26 L474.39,484.42 L473.9,487.22 L473.41,491.71 L472.93,488.46 L472.44,488.4 L471.95,490.05 L471.47,490.69 L470.98,493.66 L470.49,487.57 L470,487.33 L469.52,480.71 L469.03,485.22 L468.54,486.87 L468.05,483.43 L467.57,485.67 L467.08,486.27 L466.59,487.8 L466.1,488.85 L465.62,483.96 L465.13,483.75 L464.64,481.92 L464.15,486.51 L463.67,486.96 L463.18,489.37 L462.69,485.52 L462.21,490.24 L461.72,486.81 L461.23,484.48 L460.74,483.01 L460.26,488.41 L459.77,485.02 L459.28,488.48 L458.79,489.65 L458.31,491.41 L457.82,485.81 L457.33,482.92 L456.84,487.63 L456.36,489.47 L455.87,488.99 L455.38,481.8 L454.9,483.38 L454.41,487.71 L453.92,492.13 L453.43,490.68 L452.95,485.65 L452.46,482.47 L451.97,486.82 L451.48,489.2 L451,489.47 L450.51,492.98 L450.02,487.12 L449.53,490.32 L449.05,485.96 L448.56,491.54 L448.07,492.15 L447.58,488.48 L447.1,490 L446.61,486.64 L446.12,487.56 L445.64,490.79 L445.15,487.31 L444.66,485.74 L444.17,492.11 L443.69,484.77 L443.2,485.87 L442.71,485.57 L442.22,491.99 L441.74,491.1 L441.25,489.93 L440.76,486.05 L440.27,491.2 L439.79,491.32 L439.3,494.22" stroke="#76cc2e" stroke-width="1.7" stroke-linejoin="round" fill="none"/>
<path d="M439.3,481.15 L439.79,479.77 L440.27,484.7 L440.76,483.28 L441.25,479.94 L441.74,476.09 L442.22,477.35 L442.71,480.27 L443.2,483.43 L443.69,483.73 L444.17,483.09 L444.66,480.75 L445.15,480.55 L445.64,475.96 L446.12,478.2 L446.61,482.44 L447.1,476.81 L447.58,476.67 L448.07,478.85 L448.56,481.66 L449.05,485.52 L449.53,484.43 L450.02,478.99 L450.51,481.87 L451,484.08 L451.48,480.74 L451.97,479.59 L452.46,478.28 L452.95,477.75 L453.43,475.59 L453.92,480.85 L454.41,477.63 L454.9,481.83 L455.38,478.64 L455.87,479.03 L456.36,478.97 L456.84,477.03 L457.33,479.03 L457.82,476.64 L458.31,476.53 L458.79,478.44 L459.28,480.85 L459.77,482.05 L460.26,481.8 L460.74,480.86 L461.23,480.09 L461.72,471.93 L462.21,475.64 L462.69,476.4 L463.18,480.91 L463.67,481.85 L464.15,481.09 L464.64,479.5 L465.13,482.25 L465.62,476.08 L466.1,479.95 L466.59,476.77 L467.08,484.8 L467.57,481.06 L468.05,479.18 L468.54,478.82 L469.03,477.63 L469.52,478.1 L470,478.54 L470.49,484.07 L470.98,482.61 L471.47,486.46 L471.95,479.77 L472.44,478.59 L472.93,479.55 L473.41,481.48 L473.9,481.41 L474.39,474.98 L474.88,473.34 L475.36,477.55 L475.85,475.25 L476.34,482.13 L476.83,485.09 L477.31,482.14 L477.8,482.28 L478.29,481.48 L478.78,479.25 L479.26,471.1 L479.75,478.35 L480.24,478.64 L480.72,478.12 L481.21,478.77 L481.7,476.4 L482.19,473.46 L482.67,480.52 L483.16,478.92 L483.65,479.55 L484.14,478.09 L484.62,482.61 L485.11,484.55 L485.6,486.59 L486.09,479.71 L486.57,478.5 L487.06,478.44 L487.55,484.84 L488.04,481.5 L488.52,481.49 L489.01,483.2 L489.5,482.39 L489.98,477.89 L490.47,476.93 L490.96,478.12 L491.45,477.05 L491.93,479.66 L492.42,478.65 L492.91,478.42 L493.4,476.98 L493.88,478.18 L494.37,478.72 L494.86,478.85 L495.35,480.22 L495.83,473.03 L496.32,475.4 L496.81,476.32 L497.29,471.67 L497.78,472.61 L498.27,480.67 L498.76,477.14 L499.24,475.7 L499.73,472.49 L500.22,473.02 L500.71,474.6 L501.19,480.19 L501.68,481.05 L502.17,478.29 L502.66,476.83 L503.14,480.4 L503.63,479.78 L504.12,479.62 L504.61,478.35 L505.09,477.23 L505.58,478.52 L506.07,481.4 L506.55,475.71 L507.04,473.06 L507.53,476.74 L508.02,474.85 L508.5,475.8 L508.99,475.51 L509.48,475.87 L509.97,479.25 L510.45,476.73 L510.94,474.81 L511.43,479.24 L511.92,473.02 L512.4,470.81 L512.89,470.84 L513.38,470.4 L513.86,473.54 L514.35,477.31 L514.84,479.12 L515.33,480.22 L515.81,478.08 L516.3,477.82 L516.79,475.88 L517.28,482.37 L517.76,472.89 L518.25,470.13 L518.74,475.36 L519.23,475.06 L519.71,475.48 L520.2,476.13 L520.69,477.58 L521.17,477.78 L521.66,479.67 L522.15,477.59 L522.64,477.48 L523.12,476.53 L523.61,479.33 L524.1,477.8 L524.59,477.3 L525.07,475.68 L525.56,479.57 L526.05,476.82 L526.54,474.49 L527.02,474.8 L527.51,477.42 L528,478.52 L528.49,478.17 L528.97,475.5 L529.46,472.52 L529.95,476.12 L530.43,478.47 L530.92,476.47 L531.41,476.31 L531.9,479.18 L532.38,479.58 L532.87,478.01 L533.36,475.49 L533.85,479.64 L534.33,480.41 L534.82,476.63 L535.31,480.02 L535.8,477.51 L536.28,476.11 L536.77,476.89 L537.26,479.51 L537.74,477.75 L538.23,477.93 L538.72,476.21 L539.21,478.78 L539.69,474.45 L540.18,480.43 L540.67,478.26 L541.16,477.11 L541.64,474.24 L542.13,477.5 L542.62,475.42 L543.11,477.72 L543.59,474.96 L544.08,471.48 L544.57,476.06 L545.06,475.2 L545.54,478.54 L546.03,474.52 L546.52,472.67 L547,475.21 L547.49,479.04 L547.98,476.12 L548.47,473.27 L548.95,472.55 L549.44,473.06 L549.93,480.16 L550.42,479.24 L550.9,473.42 L551.39,478.64 L551.88,473.98 L552.37,470.59 L552.85,472.51 L553.34,472.13 L553.65,475.84 L553.65,349.03 L553.83,347.11 L554.31,346.77 L554.8,346.26 L555.29,344.14 L555.78,345.71 L556.26,345.28 L556.75,344.53 L557.24,345.43 L557.73,340.82 L558.21,343.11 L558.7,344.73 L559.19,345.98 L559.68,347.44 L560.16,342.68 L560.65,344.39 L561.14,348.13 L561.63,347.88 L562.11,346.68 L562.6,347.12 L563.09,343.21 L563.57,347.94 L564.06,345 L564.55,345.02 L565.04,348.5 L565.52,346.3 L566.01,346.01 L566.5,344.34 L566.99,346.34 L567.47,344.94 L567.96,349.7 L568.45,349.58 L568.94,344.61 L569.42,342.43 L569.91,344.55 L570.4,346.72 L570.88,342.93 L571.37,350.14 L571.86,348.89 L572.35,344.63 L572.83,343.39 L573.32,347.45 L573.81,350.91 L574.3,343.14 L574.78,344.22 L575.27,347.3 L575.76,345.71 L576.25,342.99 L576.73,351.37 L577.22,344.11 L577.71,342.9 L578.19,349.96 L578.68,344.56 L579.17,349.65 L579.66,343.47 L580.14,343.56 L580.63,338.69 L581.12,344.76 L581.61,344.95 L582.09,342.25 L582.58,345.88 L583.07,347.13 L583.56,346.61 L584.04,345.66 L584.53,348.02 L585.02,344.6 L585.51,343.4 L585.99,344.28 L586.48,340.24 L586.97,344.36 L587.45,341.28 L587.94,345.23 L588.43,342.97 L588.92,349.37 L589.4,345.66 L589.89,345.52 L590.38,346.31 L590.87,346.84 L591.35,346.3 L591.84,347.11 L592.33,351.22 L592.82,348.24 L593.3,347.21 L593.79,346.82 L594.28,348.1 L594.76,346.05 L595.25,342.99 L595.74,344.79 L596.23,345.96 L596.71,341.43 L597.2,341.06 L597.69,341.08 L598.18,340.47 L598.66,344.18 L599.15,344.76 L599.64,341.65 L600.13,345.1 L600.61,344.98 L601.1,343.62 L601.59,343.22 L602.08,344.8 L602.56,341.94 L603.05,344.13 L603.54,342.4 L604.02,340.96 L604.51,341.6 L605,341.59 L605.49,346.56 L605.97,348.44 L606.46,347.17 L606.95,343.9 L607.44,340.2 L607.92,346.26 L608.41,344.04 L608.9,346.42 L609.39,346.8 L609.87,345.71 L610.36,342.81 L610.85,343.2 L611.33,340.76 L611.82,345.72 L612.31,342.26 L612.8,341.1 L613.28,343.01 L613.77,342.5 L614.26,345.08 L614.75,347.23 L615.23,346.06 L615.72,346.32 L616.21,337.08 L616.7,343.19 L617.18,339.39 L617.67,342.06 L618.16,342.55 L618.65,341.56 L619.13,345.26 L619.62,341.89 L620.11,342.29 L620.59,347.39 L621.08,343.33 L621.57,342.23 L622.06,342.15 L622.54,339.14 L623.03,343.49 L623.52,342.34 L624.01,341.37 L624.49,345.41 L624.98,341.08 L625.47,346.75 L625.96,348.04 L626.44,343.62 L626.93,346.53 L627.42,344.83 L627.9,348.34 L628.39,344.86 L628.88,346.98 L629.37,343.71 L629.85,347.66 L630.34,343.62 L630.83,344.28 L631.32,343.6 L631.8,343.73 L632.29,343.23 L632.78,346.9 L633.27,351.27 L633.75,345.72 L634.24,346.6 L634.73,345.59 L635.22,342.95 L635.7,348.5 L636.19,346.94 L636.68,346.06 L637.16,346.96 L637.65,343.57 L638.14,343.78 L638.63,345.62 L639.11,346.6 L639.6,342.16 L640.09,344.68 L640.58,342.15 L641.06,341.73 L641.55,347.77 L642.04,347.44 L642.53,344.47 L643.01,342.67 L643.5,340.97" stroke="#ad7c7c" stroke-width="1.7" stroke-linejoin="round" fill="none"/>
<path d="M643.5,341.07 L643.01,339.84 L642.53,343.19 L642.04,343.77 L641.55,341.36 L641.06,343.81 L640.58,340.65 L640.09,346.69 L639.6,342.6 L639.11,343.56 L638.63,348.58 L638.14,342.34 L637.65,342.24 L637.16,342.98 L636.68,346.11 L636.19,345.44 L635.7,340.05 L635.22,344.6 L634.73,352.95 L634.24,348.57 L633.75,348.17 L633.27,345.25 L632.78,345.07 L632.29,346.39 L631.8,346.61 L631.32,341.71 L630.83,346.81 L630.34,339.4 L629.85,343.77 L629.37,346.54 L628.88,342.43 L628.39,341.79 L627.9,345.85 L627.42,342.35 L626.93,348.14 L626.44,347.47 L625.96,341.88 L625.47,343.85 L624.98,347.21 L624.49,343.44 L624.01,341.26 L623.52,343.09 L623.03,348.35 L622.54,346.09 L622.06,343.41 L621.57,341.69 L621.08,338.33 L620.59,342.88 L620.11,344.86 L619.62,344.3 L619.13,340.86 L618.65,345.5 L618.16,340.98 L617.67,350.32 L617.18,343.78 L616.7,345.72 L616.21,343.32 L615.72,342 L615.23,346.55 L614.75,345.03 L614.26,343.73 L613.77,342.43 L613.28,346.05 L612.8,347.31 L612.31,350.16 L611.82,339.26 L611.33,343.2 L610.85,344.47 L610.36,348.21 L609.87,342.96 L609.39,345.25 L608.9,340.76 L608.41,340.96 L607.92,343.22 L607.44,342.05 L606.95,346.55 L606.46,345.84 L605.97,346.3 L605.49,348.27 L605,345.49 L604.51,345.09 L604.02,340.81 L603.54,352.16 L603.05,348.51 L602.56,348.07 L602.08,346.76 L601.59,344.04 L601.1,343.28 L600.61,344.05 L600.13,345.62 L599.64,343.54 L599.15,343.29 L598.66,349.03 L598.18,346.59 L597.69,348.8 L597.2,348.97 L596.71,345.53 L596.23,344.73 L595.74,344.37 L595.25,346.87 L594.76,345.86 L594.28,347.44 L593.79,344.51 L593.3,342.84 L592.82,339.53 L592.33,339.84 L591.84,345.4 L591.35,346.17 L590.87,347.67 L590.38,344.85 L589.89,339.61 L589.4,341.4 L588.92,349.6 L588.43,349.6 L587.94,349.7 L587.45,344.97 L586.97,344.92 L586.48,344.13 L585.99,340 L585.51,345.64 L585.02,347.4 L584.53,340.52 L584.04,342.75 L583.56,346.38 L583.07,350.78 L582.58,350.77 L582.09,353.21 L581.61,347.33 L581.12,345.64 L580.63,342.64 L580.14,344.74 L579.66,346.84 L579.17,347.6 L578.68,340.88 L578.19,348.53 L577.71,345.73 L577.22,345.29 L576.73,343.61 L576.25,345.81 L575.76,344.1 L575.27,342.76 L574.78,344.91 L574.3,346.38 L573.81,346.12 L573.32,348.1 L572.83,346.71 L572.35,346.55 L571.86,345.16 L571.37,341.79 L570.88,340.87 L570.4,345.22 L569.91,343.77 L569.42,344.16 L568.94,343.06 L568.45,344.69 L567.96,344.54 L567.47,346.44 L566.99,347.86 L566.5,343.93 L566.01,341.63 L565.52,342.63 L565.04,343.54 L564.55,344.27 L564.06,346.39 L563.57,350.54 L563.09,345.35 L562.6,345.03 L562.11,346.93 L561.63,348.59 L561.14,343.19 L560.65,349.7 L560.16,342.27 L559.68,343.01 L559.19,338.68 L558.7,345.53 L558.21,345.76 L557.73,347.12 L557.24,345.79 L556.75,346.36 L556.26,347.97 L555.78,343.65 L555.29,347.27 L554.8,347.63 L554.31,344.95 L553.83,347.04 L553.34,347.4 L552.85,345.44 L552.37,346.77 L551.88,349.49 L551.39,347.31 L550.9,346.97 L550.42,341.81 L549.93,347.65 L549.44,343.97 L548.95,347.5 L548.47,347.44 L547.98,347.35 L547.49,345.76 L547,343.74 L546.52,340.8 L546.03,346.22 L545.54,342.67 L545.06,342.5 L544.57,342.94 L544.08,347.23 L543.59,344.15 L543.11,345.89 L542.62,345.21 L542.13,346.66 L541.64,344.64 L541.16,342.88 L540.67,342.37 L540.18,345.78 L539.69,343.68 L539.21,341.89 L538.72,347.69 L538.23,343.13 L537.74,349.21 L537.26,346.12 L536.77,345.11 L536.28,342.51 L535.8,344.94 L535.31,347.72 L534.82,349.43 L534.33,351.18 L533.85,346.44 L533.36,347.7 L532.87,349.39 L532.38,346.65 L531.9,349.29 L531.41,349.26 L530.92,349.36 L530.43,343.86 L529.95,342.76 L529.46,346.75 L528.97,351.71 L528.49,348.38 L528,347.96 L527.51,347.15 L527.02,346.37 L526.85,348.45 L526.85,474.85 L526.54,474.3 L526.05,475.8 L525.56,477.89 L525.07,478.72 L524.59,475.89 L524.1,479.78 L523.61,478.48 L523.12,479.66 L522.64,481.72 L522.15,477.09 L521.66,477.37 L521.17,477.31 L520.69,475.09 L520.2,480.68 L519.71,478.61 L519.23,477.07 L518.74,475.18 L518.25,479.68 L517.76,476.3 L517.28,476.61 L516.79,473.72 L516.3,473.44 L515.81,474.92 L515.33,471.16 L514.84,475.71 L514.35,478.2 L513.86,478.75 L513.38,480.5 L512.89,478.64 L512.4,482.97 L511.92,479.55 L511.43,477.19 L510.94,475.01 L510.45,477.89 L509.97,474.2 L509.48,478.48 L508.99,478.41 L508.5,483 L508.02,481.45 L507.53,481.07 L507.04,475.04 L506.55,475.73 L506.07,480.15 L505.58,477.28 L505.09,476.56 L504.61,478.2 L504.12,478.05 L503.63,478.86 L503.14,479.72 L502.66,483.16 L502.17,479.88 L501.68,475.37 L501.19,473.65 L500.71,477.55 L500.22,479.93 L499.73,479.28 L499.24,476.25 L498.76,476.76 L498.27,479.33 L497.78,477.68 L497.29,478.66 L496.81,477.11 L496.32,479.03 L495.83,482.36 L495.35,479.43 L494.86,476.77 L494.37,480.78 L493.88,479.43 L493.4,476.5 L492.91,478.85 L492.42,480.28 L491.93,473.84 L491.45,475 L490.96,474.85 L490.47,479.89 L489.98,474.8 L489.5,481.72 L489.01,480.89 L488.52,477.43 L488.04,474.89 L487.55,479.93 L487.06,480.78 L486.57,478.84 L486.09,483.72 L485.6,478.61 L485.11,477.3 L484.62,479.5 L484.14,477.65 L483.65,476.49 L483.16,477.36 L482.67,477.08 L482.19,474.48 L481.7,478.8 L481.21,478.48 L480.72,480.14 L480.24,476.68 L479.75,479.33 L479.26,477.89 L478.78,478.33 L478.29,478.66 L477.8,474.55 L477.31,477.94 L476.83,475.13 L476.34,475.81 L475.85,474.77 L475.36,478.26 L474.88,476.53 L474.39,476.46 L473.9,479.95 L473.41,478.76 L472.93,479.43 L472.44,479.4 L471.95,476 L471.47,480.15 L470.98,483.85 L470.49,485.12 L470,482.24 L469.52,481.87 L469.03,480.1 L468.54,478.18 L468.05,474.57 L467.57,477.2 L467.08,477.61 L466.59,480.79 L466.1,478.41 L465.62,475.73 L465.13,474.99 L464.64,483.15 L464.15,478.39 L463.67,475.21 L463.18,476.19 L462.69,482.4 L462.21,481.25 L461.72,478.65 L461.23,478.32 L460.74,481.35 L460.26,482.47 L459.77,478.11 L459.28,482.65 L458.79,477 L458.31,478.91 L457.82,478.78 L457.33,482.9 L456.84,482.28 L456.36,478.85 L455.87,483.31 L455.38,475.68 L454.9,482.21 L454.41,483.72 L453.92,480.98 L453.43,479.06 L452.95,477.86 L452.46,480.31 L451.97,480.65 L451.48,480.83 L451,481.76 L450.51,487.13 L450.02,479.78 L449.53,479.39 L449.05,479.52 L448.56,481.57 L448.07,479.96 L447.58,480.17 L447.1,480.4 L446.61,477.49 L446.12,483.79 L445.64,480.69 L445.15,483.12 L444.66,481.96 L444.17,477.03 L443.69,482.1 L443.2,481.14 L442.71,482.11 L442.22,478.51 L441.74,482.33 L441.25,485.27 L440.76,480.6 L440.27,481.41 L439.79,481.58 L439.3,478.1" stroke="#ad7c7c" stroke-width="1.7" stroke-linejoin="round" fill="none"/>
<path d="M439.3,472.7 L439.79,472.1 L440.27,470.66 L440.76,469.58 L441.25,471.46 L441.74,468.32 L442.22,464.49 L442.71,469.64 L443.2,465.74 L443.69,474.04 L444.17,468.14 L444.66,470.53 L445.15,470.09 L445.64,471.08 L446.12,472.07 L446.61,473.88 L447.1,472.31 L447.58,467.8 L448.07,466.8 L448.56,470.03 L449.05,471.42 L449.53,472.24 L450.02,473.65 L450.51,466.91 L451,467.6 L451.48,469.09 L451.97,470.97 L452.46,472.79 L452.95,467.75 L453.43,467.5 L453.92,471.54 L454.41,468.12 L454.9,472.07 L455.38,469.08 L455.87,471.99 L456.36,471.54 L456.84,469.23 L457.33,468.68 L457.82,467.12 L458.31,471.04 L458.79,466.45 L459.28,465.62 L459.77,468.58 L460.26,468.33 L460.74,471.2 L461.23,470.55 L461.72,473.13 L462.21,470.53 L462.69,469.48 L463.18,466.43 L463.67,466.44 L464.15,466.75 L464.64,469.63 L465.13,470.16 L465.62,470.58 L466.1,469.35 L466.59,474.09 L467.08,469.07 L467.57,473.12 L468.05,471.82 L468.54,470.13 L469.03,470.89 L469.52,465.92 L470,468.61 L470.49,465.43 L470.98,465.41 L471.47,469.37 L471.95,468.41 L472.44,465.97 L472.93,469.11 L473.41,469.04 L473.9,470.54 L474.39,469.51 L474.88,470.17 L475.36,469.32 L475.85,466.86 L476.34,465.18 L476.83,467.66 L477.31,468.23 L477.8,466.83 L478.29,469.13 L478.78,471.63 L479.26,467.21 L479.75,470.74 L480.24,467.34 L480.72,470.82 L481.21,465.2 L481.7,470.34 L482.19,467.37 L482.67,464.91 L483.16,470.02 L483.65,465.72 L484.14,469.91 L484.62,473.39 L485.11,468.51 L485.6,467.08 L486.09,468.79 L486.57,474.82 L487.06,470.73 L487.55,470.09 L488.04,470.06 L488.52,469.83 L489.01,473.32 L489.5,471.44 L489.98,465.23 L490.47,463.95 L490.96,468.1 L491.45,470.17 L491.93,468.14 L492.42,465.93 L492.91,466.06 L493.4,470.59 L493.88,468.77 L494.37,468.26 L494.86,465.01 L495.35,464.59 L495.83,466.06 L496.32,464.84 L496.81,468.29 L497.29,464.71 L497.78,468.3 L498.27,467.41 L498.76,465.89 L499.24,469.78 L499.73,470.43 L500.22,473.13 L500.71,469.35 L501.19,468.72 L501.68,469.17 L502.17,467.33 L502.66,472.98 L503.14,469.69 L503.63,468.42 L504.12,468.87 L504.61,466.47 L505.09,463.45 L505.58,467.77 L506.07,470.23 L506.55,470.15 L507.04,468.46 L507.53,466.76 L508.02,469.69 L508.5,466.12 L508.99,469.86 L509.48,466.56 L509.97,466.51 L510.45,466.39 L510.94,462.31 L511.43,466.84 L511.92,467.95 L512.4,466.74 L512.89,465.45 L513.38,470.29 L513.86,467.89 L514.35,469.57 L514.84,466.8 L515.33,464.2 L515.81,466.54 L516.3,467.61 L516.79,467.22 L517.28,474.57 L517.76,467.89 L518.25,466.37 L518.74,466.85 L519.23,468.31 L519.71,469.53 L520.2,468.58 L520.69,464.96 L521.17,467 L521.66,464.14 L522.15,472.6 L522.64,470.1 L523.12,467.59 L523.61,467.51 L524.1,471.39 L524.59,470.17 L525.07,465.24 L525.56,469.79 L526.05,470.43 L526.54,470.86 L527.02,469.68 L527.51,466.47 L528,465.61 L528.49,471.59 L528.97,465.06 L529.46,467.97 L529.95,468.83 L530.43,463.7 L530.92,466.31 L531.41,469.84 L531.9,469.46 L532.38,469.54 L532.87,470.22 L533.36,468.8 L533.85,465.48 L534.33,465.73 L534.82,469.91 L535.31,461.23 L535.8,467.61 L536.28,466.87 L536.77,466.84 L537.26,465.08 L537.74,467.14 L538.23,465.87 L538.72,461.55 L539.21,465.03 L539.69,468.86 L540.18,466.64 L540.67,468.66 L541.16,468.22 L541.64,466.74 L542.13,465.94 L542.62,467.16 L543.11,464.82 L543.59,466.58 L544.08,469.74 L544.57,465.48 L545.06,467.15 L545.54,463.88 L546.03,467.34 L546.52,465.44 L547,465.47 L547.49,472.65 L547.53,471.94 L547.53,364.94 L547.98,358.51 L548.47,364.37 L548.95,359.39 L549.44,357.41 L549.93,358.17 L550.42,357.92 L550.9,360.56 L551.39,360.14 L551.88,359.43 L552.37,358.74 L552.85,357.84 L553.34,359.73 L553.83,361.46 L554.31,361.64 L554.8,359.36 L555.29,363.6 L555.78,363.88 L556.26,361.95 L556.75,361.69 L557.24,360.93 L557.73,366.38 L558.21,362.48 L558.7,361.08 L559.19,358.2 L559.68,363.88 L560.16,361.59 L560.65,359.03 L561.14,358.21 L561.63,356.27 L562.11,356.01 L562.6,360.93 L563.09,358.38 L563.57,359.91 L564.06,361.47 L564.55,356.36 L565.04,359.96 L565.52,361.57 L566.01,360.97 L566.5,361.84 L566.99,357.65 L567.47,357.88 L567.96,355.5 L568.45,357.13 L568.94,360.05 L569.42,356.95 L569.91,360.07 L570.4,360.53 L570.88,359.95 L571.37,359.27 L571.86,356.29 L572.35,359.68 L572.83,358.4 L573.32,358.91 L573.81,361.98 L574.3,362.5 L574.78,360.56 L575.27,358.47 L575.76,358.03 L576.25,357.51 L576.73,358.36 L577.22,359.79 L577.71,358.12 L578.19,361.01 L578.68,362.68 L579.17,360.76 L579.66,362.79 L580.14,361.19 L580.63,361.26 L581.12,360.8 L581.61,359.44 L582.09,360.82 L582.58,360.32 L583.07,363.23 L583.56,359.65 L584.04,361.02 L584.53,358.34 L585.02,365.25 L585.51,362.47 L585.99,359.12 L586.48,364.52 L586.97,361.15 L587.45,359.04 L587.94,358.38 L588.43,361.99 L588.92,358.93 L589.4,358.19 L589.89,360.64 L590.38,357.25 L590.87,358.12 L591.35,358.2 L591.84,359.33 L592.33,357.27 L592.82,357.72 L593.3,355.35 L593.79,356.27 L594.28,359.09 L594.76,358.98 L595.25,356.2 L595.74,358.42 L596.23,357.28 L596.71,356.59 L597.2,358.05 L597.69,363.63 L598.18,359.39 L598.66,357.91 L599.15,357.64 L599.64,359.69 L600.13,355.57 L600.61,357.54 L601.1,359.29 L601.59,360.03 L602.08,357.66 L602.56,360.41 L603.05,361 L603.54,353.97 L604.02,353.5 L604.51,353.96 L605,353.34 L605.49,354.99 L605.97,360.94 L606.46,355.8 L606.95,354.14 L607.44,355.42 L607.92,361.66 L608.41,355.85 L608.9,353.79 L609.39,357.62 L609.87,357.27 L610.36,355.59 L610.85,357.14 L611.33,354.75 L611.82,356.46 L612.31,355.5 L612.8,356.65 L613.28,360.74 L613.77,360.79 L614.26,350.79 L614.75,354.72 L615.23,353.4 L615.72,353.41 L616.21,352.01 L616.7,354.36 L617.18,357.82 L617.67,357.37 L618.16,361.88 L618.65,359.05 L619.13,355.56 L619.62,361.88 L620.11,358.09 L620.59,355.43 L621.08,353.4 L621.57,358.2 L622.06,358.97 L622.54,362.13 L623.03,361.01 L623.52,356.92 L624.01,351.98 L624.49,358.22 L624.98,354.01 L625.47,355.02 L625.96,357.53 L626.44,351.79 L626.93,361.41 L627.42,358.38 L627.9,356.76 L628.39,351.66 L628.88,350.92 L629.37,349.56 L629.85,354.26 L630.34,353.62 L630.83,352.49 L631.32,354.19 L631.8,355.06 L632.29,356.61 L632.78,357.6 L633.27,359.87 L633.75,352.87 L634.24,356.53 L634.73,361.56 L635.22,357.4 L635.7,356.86 L636.19,356.17 L636.68,352 L637.16,355.37 L637.65,356.75 L638.14,358.31 L638.63,357.02 L639.11,357.62 L639.6,356.24 L640.09,348.77 L640.58,353.1 L641.06,357.4 L641.55,351.95 L642.04,352.88 L642.53,353.26 L643.01,353.6 L643.5,353.44" stroke="#5cdad3" stroke-width="1.7" stroke-linejoin="round" fill="none"/>
<path d="M643.5,354.57 L643.01,352.33 L642.53,352.64 L642.04,351.93 L641.55,356.19 L641.06,356.28 L640.58,358.07 L640.09,354.55 L639.6,353.82 L639.11,356.74 L638.63,355.1 L638.14,349.69 L637.65,351.43 L637.16,357.65 L636.68,357.06 L636.19,355.14 L635.7,356.19 L635.22,355.51 L634.73,353.4 L634.24,354.83 L633.75,358.72 L633.27,355.53 L632.78,356.54 L632.29,356.35 L631.8,357.95 L631.32,360.42 L630.83,360.84 L630.34,358.82 L629.85,359.96 L629.37,364.29 L628.88,356.27 L628.39,359.46 L627.9,359.38 L627.42,356.33 L626.93,362.54 L626.44,355.35 L625.96,358.3 L625.47,355.75 L624.98,357.76 L624.49,356.47 L624.01,356.59 L623.52,356.89 L623.03,361.41 L622.54,361.91 L622.06,358.63 L621.57,354.15 L621.08,357.54 L620.59,355.97 L620.11,356.41 L619.62,355.78 L619.13,354.37 L618.65,359.98 L618.16,357.4 L617.67,357.73 L617.18,358.16 L616.7,359.62 L616.21,359.9 L615.72,360.59 L615.23,360.98 L614.75,352.39 L614.26,351.78 L613.77,355.7 L613.28,355.12 L612.8,359.11 L612.31,364.68 L611.82,364.05 L611.33,359.13 L610.85,354.53 L610.36,356.75 L609.87,359.74 L609.39,358.82 L608.9,360.38 L608.41,361.83 L607.92,359.46 L607.44,359.17 L606.95,360.1 L606.46,360.56 L605.97,360.83 L605.49,358.1 L605,354.5 L604.51,357.31 L604.02,352.25 L603.54,360.06 L603.05,357.85 L602.56,360.66 L602.08,359.11 L601.59,358.02 L601.1,356.6 L600.61,354.81 L600.13,358.36 L599.64,361.1 L599.15,359.39 L598.66,357.72 L598.18,359.64 L597.69,356.38 L597.2,353.5 L596.71,360.16 L596.23,357.86 L595.74,355.6 L595.25,362.04 L594.76,358.84 L594.28,358.94 L593.79,361.88 L593.3,356.15 L592.82,357.1 L592.33,359.08 L591.84,357.46 L591.35,356.51 L590.87,355.93 L590.38,356.23 L589.89,356.75 L589.4,360.75 L588.92,360.13 L588.43,358.64 L587.94,365.2 L587.45,355.34 L586.97,358.47 L586.48,361.05 L585.99,363.69 L585.51,359.49 L585.02,358.77 L584.53,360.06 L584.04,360.06 L583.56,361.21 L583.07,361.23 L582.58,359.68 L582.09,360.55 L581.61,357.62 L581.12,358.75 L580.63,358.43 L580.14,357.69 L579.66,355.39 L579.17,356.33 L578.68,357.53 L578.19,358.85 L577.71,360.81 L577.22,360.3 L576.73,357.68 L576.25,358.01 L575.76,359.61 L575.27,362.38 L574.78,363.71 L574.3,359.64 L573.81,356.73 L573.32,357.45 L572.83,361.9 L572.35,360.45 L571.86,358.97 L571.37,361.3 L570.88,358.96 L570.4,359.59 L569.91,361.33 L569.42,362.84 L568.94,358.35 L568.45,358.12 L567.96,361.07 L567.47,362.27 L566.99,358.04 L566.5,357.5 L566.01,359.53 L565.52,355.56 L565.04,358.94 L564.55,361.82 L564.06,357.5 L563.57,359.32 L563.09,358.59 L562.6,359.12 L562.11,361.81 L561.63,363.08 L561.14,361.07 L560.65,356.62 L560.16,361.12 L559.68,356.78 L559.19,358.24 L558.7,361.91 L558.21,359.69 L557.73,358.31 L557.24,361.46 L556.75,365.38 L556.26,360.57 L555.78,362.68 L555.29,359.59 L554.8,364.35 L554.31,361.52 L553.83,362.3 L553.34,364.16 L552.85,361.75 L552.37,360.04 L551.88,361.3 L551.39,363.23 L550.9,360.52 L550.42,364.5 L549.93,360.24 L549.44,359.13 L548.95,356 L548.47,357.04 L547.98,358.69 L547.49,359.46 L547,360.33 L546.52,363.91 L546.03,358.32 L545.54,358.97 L545.06,361.18 L544.57,363.98 L544.08,358.54 L543.59,359.27 L543.11,363.69 L542.62,360.6 L542.13,356.78 L541.64,360.32 L541.16,360.43 L540.67,362.49 L540.18,363.68 L539.69,360 L539.21,354.13 L538.72,359.56 L538.23,361.84 L537.74,360.37 L537.26,362.64 L536.77,360.89 L536.28,360.19 L535.8,364.48 L535.31,365.97 L534.82,364.07 L534.76,361.3 L534.76,465.85 L534.33,463.69 L533.85,469.37 L533.36,466.58 L532.87,468.44 L532.38,467.27 L531.9,466.4 L531.41,469.26 L530.92,468.35 L530.43,470.34 L529.95,467.51 L529.46,469.35 L528.97,469.07 L528.49,467.28 L528,468.85 L527.51,465 L527.02,468.15 L526.54,465.54 L526.05,466.13 L525.56,469.49 L525.07,468.54 L524.59,469.76 L524.1,469 L523.61,468.56 L523.12,463.42 L522.64,467.27 L522.15,463.66 L521.66,465.28 L521.17,470 L520.69,473.85 L520.2,467.82 L519.71,472.45 L519.23,467.33 L518.74,465.06 L518.25,465.93 L517.76,467.65 L517.28,468.27 L516.79,467.25 L516.3,468.3 L515.81,469.19 L515.33,469.07 L514.84,465.35 L514.35,468.55 L513.86,467.12 L513.38,470.38 L512.89,470.32 L512.4,471.9 L511.92,469.56 L511.43,466.76 L510.94,466.84 L510.45,468.79 L509.97,466.74 L509.48,468.43 L508.99,467.23 L508.5,467.12 L508.02,466.45 L507.53,473.52 L507.04,472.83 L506.55,467.65 L506.07,468.22 L505.58,462.76 L505.09,467.09 L504.61,469.16 L504.12,464.88 L503.63,465.87 L503.14,462.95 L502.66,465.42 L502.17,467.89 L501.68,466.41 L501.19,469.61 L500.71,469.77 L500.22,470.08 L499.73,469.39 L499.24,466.8 L498.76,469.06 L498.27,467.82 L497.78,469.43 L497.29,466.61 L496.81,474.51 L496.32,470.78 L495.83,468.77 L495.35,471.17 L494.86,466.88 L494.37,467.52 L493.88,465.17 L493.4,465.25 L492.91,466.05 L492.42,468.2 L491.93,471.1 L491.45,469.91 L490.96,470.14 L490.47,468.52 L489.98,469.76 L489.5,461.71 L489.01,470.46 L488.52,466.45 L488.04,469.2 L487.55,469.5 L487.06,466.8 L486.57,468.21 L486.09,471.56 L485.6,468.68 L485.11,469.29 L484.62,473.95 L484.14,469.96 L483.65,471.77 L483.16,471.58 L482.67,468.6 L482.19,468.16 L481.7,469.45 L481.21,463.96 L480.72,466.52 L480.24,469.77 L479.75,468.72 L479.26,469.28 L478.78,474.45 L478.29,474.5 L477.8,474.09 L477.31,465.7 L476.83,468.59 L476.34,469.69 L475.85,470.72 L475.36,467.34 L474.88,468.62 L474.39,465 L473.9,466.13 L473.41,464.43 L472.93,468.15 L472.44,468.1 L471.95,470.03 L471.47,469.99 L470.98,473.73 L470.49,472.11 L470,472.52 L469.52,471.94 L469.03,467.31 L468.54,468.22 L468.05,466.2 L467.57,466.49 L467.08,466.44 L466.59,466.23 L466.1,470.03 L465.62,467.82 L465.13,469.86 L464.64,470.98 L464.15,467.2 L463.67,463.77 L463.18,470.26 L462.69,465.73 L462.21,466.55 L461.72,470.82 L461.23,469.44 L460.74,468.8 L460.26,468.61 L459.77,470.32 L459.28,473.06 L458.79,470.75 L458.31,468.09 L457.82,467.48 L457.33,467.61 L456.84,466.61 L456.36,471.32 L455.87,470.48 L455.38,469.33 L454.9,467.42 L454.41,468.88 L453.92,468.46 L453.43,469.27 L452.95,464.83 L452.46,473.74 L451.97,471.27 L451.48,464.56 L451,467.92 L450.51,473.88 L450.02,470.98 L449.53,473.87 L449.05,472.95 L448.56,470.52 L448.07,466.25 L447.58,467.97 L447.1,468.01 L446.61,467.2 L446.12,468.92 L445.64,471.98 L445.15,471.09 L444.66,469.8 L444.17,470.89 L443.69,472.17 L443.2,471.82 L442.71,474.46 L442.22,474.13 L441.74,471.81 L441.25,471.77 L440.76,470.82 L440.27,467.29 L439.79,468.88 L439.3,470.16" stroke="#5cdad3" stroke-width="1.7" stroke-linejoin="round" fill="none"/>
<path d="M439.3,452.76 L439.79,453.29 L440.27,450.16 L440.76,451.99 L441.25,449.59 L441.74,452.2 L442.22,450.25 L442.71,450.1 L443.2,447.63 L443.69,449.97 L444.17,450.59 L444.66,449.37 L445.15,449.4 L445.64,445.72 L446.12,448.94 L446.61,450.5 L447.1,450.45 L447.58,448.63 L448.07,448.59 L448.56,447.52 L449.05,451.81 L449.53,444.43 L450.02,443.61 L450.51,447.52 L451,451.3 L451.48,449.35 L451.97,448.16 L452.46,453.69 L452.95,450.29 L453.43,452.58 L453.92,448.9 L454.41,445.7 L454.9,445.49 L455.38,451.08 L455.87,446.26 L456.36,445.85 L456.84,448.53 L457.33,447.38 L457.82,444.73 L458.31,448.04 L458.79,448.29 L459.28,449.56 L459.77,446.07 L460.26,452.39 L460.74,446.27 L461.23,449.74 L461.72,446.51 L462.21,451.22 L462.69,451.06 L463.18,450.23 L463.67,446.75 L464.15,451.16 L464.64,447.48 L465.13,449.11 L465.62,445.37 L466.1,447.69 L466.59,446.58 L467.08,447.68 L467.57,443.59 L468.05,447.14 L468.54,447.43 L469.03,442.99 L469.52,445.89 L470,445.37 L470.49,448.37 L470.98,447.14 L471.47,452.26 L471.95,448.46 L472.44,448.97 L472.93,451.01 L473.41,451.39 L473.9,445.76 L474.39,445.64 L474.88,449.91 L475.36,443.72 L475.85,447.44 L476.34,447.8 L476.83,446.5 L477.31,449.17 L477.8,451.02 L478.29,449.59 L478.78,444.82 L479.26,443.87 L479.75,449.22 L480.24,444.57 L480.72,445.76 L481.21,445.04 L481.7,445.8 L482.19,445.18 L482.67,448.13 L483.16,448.78 L483.65,448.49 L484.14,447.62 L484.62,445.12 L485.11,448.44 L485.6,443.12 L486.09,446.48 L486.57,447.35 L487.06,444.7 L487.55,444.47 L488.04,446.1 L488.52,448.19 L489.01,448.64 L489.5,450.08 L489.98,444.34 L490.47,442.73 L490.96,440.45 L491.45,442.81 L491.93,443.85 L492.42,443.19 L492.91,442.52 L493.4,445 L493.88,444.34 L494.37,440.08 L494.86,447.39 L495.35,448.9 L495.83,448.33 L496.32,444.29 L496.81,442.08 L497.29,444.8 L497.78,443.32 L498.27,444.46 L498.76,443.99 L499.24,445.7 L499.73,445.03 L500.22,444.75 L500.71,442.1 L501.19,438.8 L501.68,446.84 L502.17,443.97 L502.66,444.28 L503.14,442.16 L503.63,441.29 L504.12,441.63 L504.61,441.63 L505.09,445.54 L505.58,448.37 L506.07,441.64 L506.55,440.62 L507.04,445.12 L507.53,441.42 L508.02,441.67 L508.5,448.7 L508.99,443.28 L509.48,445.84 L509.97,441.76 L510.45,444.64 L510.94,445.61 L511.43,447.67 L511.92,445.28 L512.4,441.77 L512.89,444.47 L513.38,447.91 L513.86,439.94 L514.35,438.19 L514.84,440.22 L515.33,443.55 L515.81,446.03 L516.3,447.69 L516.79,443.24 L517.28,440.22 L517.76,444.56 L518.25,443.46 L518.74,443.72 L519.23,443.72 L519.71,441.99 L520.2,437.88 L520.69,442.73 L521.17,440.82 L521.66,439.69 L522.15,442.39 L522.64,442.87 L523.12,445.65 L523.61,441.03 L524.1,443.22 L524.59,444.13 L525.07,442.75 L525.56,444.38 L526.05,445.25 L526.54,443.81 L527.02,439.35 L527.51,441.78 L528,440.83 L528.49,444.98 L528.97,447.28 L529.46,439.5 L529.95,442.1 L530.43,445.4 L530.92,443.15 L531.41,440.85 L531.9,445.36 L532.38,444.79 L532.87,442.02 L533.36,443.81 L533.85,440.47 L534.33,439.06 L534.82,439.77 L535.31,441.91 L535.8,441.66 L536.28,442.87 L536.77,442.08 L537.26,440.8 L537.74,441.78 L538.23,439.18 L538.72,434.74 L539.21,440.42 L539.69,440.1 L540.18,438.89 L540.67,438.9 L541.16,440.85 L541.64,441.95 L542.13,438.92 L542.42,438.85 L542.42,383.22 L542.62,386.2 L543.11,383.79 L543.59,382.64 L544.08,384.42 L544.57,383.03 L545.06,379.12 L545.54,386.98 L546.03,383.69 L546.52,386.63 L547,387.88 L547.49,385.66 L547.98,383.17 L548.47,383.47 L548.95,386.23 L549.44,387.61 L549.93,385.97 L550.42,384.14 L550.9,385.42 L551.39,387.25 L551.88,380.41 L552.37,384.13 L552.85,383.64 L553.34,384.31 L553.83,384.53 L554.31,383.13 L554.8,383.4 L555.29,381.36 L555.78,384.74 L556.26,386.36 L556.75,379.06 L557.24,381.41 L557.73,380.18 L558.21,378.86 L558.7,379.84 L559.19,381.26 L559.68,385.24 L560.16,386.51 L560.65,381.05 L561.14,380.06 L561.63,379.97 L562.11,384.93 L562.6,387.45 L563.09,385.75 L563.57,385.49 L564.06,382.37 L564.55,384.06 L565.04,378.67 L565.52,381.98 L566.01,382.81 L566.5,379.82 L566.99,380.09 L567.47,382.91 L567.96,379.84 L568.45,376.41 L568.94,382.45 L569.42,382.02 L569.91,383.73 L570.4,386.16 L570.88,381.07 L571.37,379.35 L571.86,378.18 L572.35,379.02 L572.83,384.76 L573.32,381.96 L573.81,382.54 L574.3,383.83 L574.78,384.03 L575.27,379.83 L575.76,380.93 L576.25,376.13 L576.73,378.03 L577.22,383.94 L577.71,379.35 L578.19,377.14 L578.68,379.2 L579.17,382.59 L579.66,376.85 L580.14,382.05 L580.63,380.8 L581.12,384.52 L581.61,384.13 L582.09,384.99 L582.58,378.91 L583.07,376.85 L583.56,379.78 L584.04,382.78 L584.53,380.72 L585.02,379.07 L585.51,382.86 L585.99,383.13 L586.48,380.79 L586.97,378.23 L587.45,378.86 L587.94,378.16 L588.43,381.77 L588.92,385.63 L589.4,380.41 L589.89,381.6 L590.38,380.13 L590.87,380.23 L591.35,378.28 L591.84,380.51 L592.33,376.12 L592.82,377.97 L593.3,377.37 L593.79,376.93 L594.28,375.84 L594.76,376.92 L595.25,382.09 L595.74,381.07 L596.23,375.08 L596.71,376.41 L597.2,376.57 L597.69,376.8 L598.18,379.36 L598.66,380.17 L599.15,380.32 L599.64,376.23 L600.13,376.77 L600.61,373.69 L601.1,375.64 L601.59,373.03 L602.08,375.47 L602.56,379.91 L603.05,374.55 L603.54,376.11 L604.02,374.6 L604.51,376.34 L605,378.06 L605.49,377.42 L605.97,380.13 L606.46,381.08 L606.95,380.64 L607.44,379.64 L607.92,381.21 L608.41,378.79 L608.9,377.11 L609.39,372.64 L609.87,371.69 L610.36,375.69 L610.85,374.72 L611.33,376.92 L611.82,376.16 L612.31,376.86 L612.8,378.2 L613.28,377.16 L613.77,380.37 L614.26,376.92 L614.75,377.52 L615.23,379.48 L615.72,378.38 L616.21,375.94 L616.7,377.99 L617.18,375.93 L617.67,375.07 L618.16,372.52 L618.65,377.77 L619.13,377.08 L619.62,375.42 L620.11,372.63 L620.59,374.59 L621.08,374.02 L621.57,378.9 L622.06,378.31 L622.54,372.97 L623.03,375.78 L623.52,370.99 L624.01,376.15 L624.49,376.63 L624.98,379.76 L625.47,375.56 L625.96,375.11 L626.44,370.93 L626.93,373.89 L627.42,375.7 L627.9,378.86 L628.39,376.74 L628.88,373.72 L629.37,373.25 L629.85,371.96 L630.34,372.37 L630.83,374.55 L631.32,373.68 L631.8,374.38 L632.29,378.01 L632.78,372.08 L633.27,373.34 L633.75,376.96 L634.24,374.72 L634.73,374.24 L635.22,372.43 L635.7,370.83 L636.19,380.62 L636.68,375.27 L637.16,371.39 L637.65,375.89 L638.14,379.3 L638.63,375.38 L639.11,374.04 L639.6,373.57 L640.09,376.76 L640.58,376.2 L641.06,374.48 L641.55,372.67 L642.04,368.76 L642.53,371.93 L643.01,374.91 L643.5,379.82" stroke="#ad72e6" stroke-width="1.7" stroke-linejoin="round" fill="none"/>
<path d="M643.5,371.71 L643.01,373.79 L642.53,374.39 L642.04,376.63 L641.55,373.36 L641.06,378.24 L640.58,375.35 L640.09,374.49 L639.6,373.85 L639.11,371.37 L638.63,373.9 L638.14,374.24 L637.65,372.62 L637.16,377.71 L636.68,376.37 L636.19,375.17 L635.7,372.79 L635.22,376.16 L634.73,373.5 L634.24,373.71 L633.75,378.12 L633.27,379.45 L632.78,379.78 L632.29,376.28 L631.8,375.11 L631.32,373.59 L630.83,372.95 L630.34,375.95 L629.85,373.14 L629.37,372.91 L628.88,373.67 L628.39,373.92 L627.9,378.1 L627.42,375.58 L626.93,378.08 L626.44,379.22 L625.96,377.66 L625.47,376.09 L624.98,376.09 L624.49,376.77 L624.01,378.55 L623.52,376.37 L623.03,377.89 L622.54,379.92 L622.06,377.1 L621.57,373.13 L621.08,376.27 L620.59,378.76 L620.11,373.89 L619.62,371.7 L619.13,375.71 L618.65,376.76 L618.16,376.12 L617.67,369.63 L617.18,374.23 L616.7,373.65 L616.21,374.78 L615.72,380.39 L615.23,380.44 L614.75,380.79 L614.26,377.08 L613.77,376.75 L613.28,372.79 L612.8,376.4 L612.31,376.17 L611.82,376.68 L611.33,376.71 L610.85,371.71 L610.36,374.95 L609.87,373.2 L609.39,373.11 L608.9,377.53 L608.41,375.89 L607.92,377.9 L607.44,377.4 L606.95,377.17 L606.46,377.45 L605.97,378.7 L605.49,374.42 L605,377.38 L604.51,376.06 L604.02,373.43 L603.54,375.12 L603.05,374.73 L602.56,373.8 L602.08,374.25 L601.59,372.96 L601.1,379.89 L600.61,374.16 L600.13,376.94 L599.64,381.93 L599.15,380.88 L598.66,382.35 L598.18,379.64 L597.69,382.26 L597.2,381.96 L596.71,378.88 L596.23,378.31 L595.74,380.39 L595.25,379.74 L594.76,379.26 L594.28,378.74 L593.79,378.81 L593.3,379.36 L592.82,377 L592.33,382.09 L591.84,381.07 L591.35,379.34 L590.87,380.09 L590.38,380.7 L589.89,380.65 L589.4,379.17 L588.92,376.35 L588.43,378.85 L587.94,379.83 L587.45,378.71 L586.97,379.79 L586.48,384.07 L585.99,380.28 L585.51,380.67 L585.02,381.27 L584.53,378.7 L584.04,379.31 L583.56,380.94 L583.07,385.21 L582.58,385.46 L582.09,381.54 L581.61,380.7 L581.12,379.19 L580.63,379.26 L580.14,380.95 L579.66,383.31 L579.17,383.66 L578.68,381.57 L578.19,383.33 L577.71,379.46 L577.22,383.17 L576.73,385.39 L576.25,382.38 L575.76,385.18 L575.27,378.15 L574.78,382.16 L574.3,381.21 L573.81,381.4 L573.32,382.83 L572.83,385.49 L572.35,386.54 L571.86,380.55 L571.37,378.42 L570.88,375.16 L570.4,382.64 L569.91,380.21 L569.42,380.85 L568.94,379.08 L568.45,381.74 L567.96,379.69 L567.47,378.71 L566.99,379.12 L566.5,377.32 L566.01,380.58 L565.52,377.59 L565.04,381.95 L564.55,377.78 L564.06,386.82 L563.57,383.15 L563.09,383.97 L562.6,382.39 L562.11,379.55 L561.63,379.46 L561.14,380.91 L560.65,377.64 L560.16,384.08 L559.68,384.51 L559.19,379.26 L558.7,380.47 L558.21,386.45 L557.73,382.66 L557.24,385.1 L556.75,379.67 L556.26,378.9 L555.78,382.66 L555.29,379.58 L554.8,383.66 L554.31,380.87 L553.83,380.9 L553.34,382.61 L552.85,386.2 L552.37,384.68 L551.88,388.97 L551.39,386.3 L550.9,388.56 L550.42,382.17 L549.93,385.4 L549.44,389.84 L548.95,384.22 L548.47,383.1 L547.98,384.86 L547.49,379.36 L547,380.89 L546.52,383.06 L546.03,385.43 L545.54,391.58 L545.06,385.5 L544.57,382.63 L544.08,385.44 L543.59,388.26 L543.11,385.98 L542.62,389.15 L542.13,386.26 L541.64,383.68 L541.4,381.21 L541.4,439.12 L541.16,439.95 L540.67,438.95 L540.18,437.16 L539.69,440.66 L539.21,443.85 L538.72,443.82 L538.23,444.93 L537.74,444.44 L537.26,442.53 L536.77,440.91 L536.28,440.89 L535.8,441.12 L535.31,442.21 L534.82,440.75 L534.33,439.27 L533.85,439.15 L533.36,437.43 L532.87,441.1 L532.38,442.14 L531.9,437.96 L531.41,440.21 L530.92,440.42 L530.43,442.26 L529.95,439.81 L529.46,442.29 L528.97,444.47 L528.49,442.96 L528,443.42 L527.51,440.62 L527.02,442.63 L526.54,442.1 L526.05,442.76 L525.56,441.7 L525.07,443.66 L524.59,440.25 L524.1,445.14 L523.61,444.22 L523.12,444.73 L522.64,441.75 L522.15,442.31 L521.66,441.47 L521.17,443.14 L520.69,444.58 L520.2,445.97 L519.71,444.6 L519.23,444.68 L518.74,442.84 L518.25,442.15 L517.76,440.52 L517.28,442.59 L516.79,444.73 L516.3,446.13 L515.81,443.97 L515.33,442.66 L514.84,438.6 L514.35,441.52 L513.86,438.77 L513.38,437.7 L512.89,444.21 L512.4,440.94 L511.92,440.16 L511.43,439.47 L510.94,442.45 L510.45,441.13 L509.97,444.1 L509.48,444.07 L508.99,443.88 L508.5,439.75 L508.02,443.19 L507.53,441.53 L507.04,443.13 L506.55,445.45 L506.07,443.96 L505.58,442.57 L505.09,445.38 L504.61,443.12 L504.12,445.6 L503.63,446.76 L503.14,444.59 L502.66,445.03 L502.17,446.93 L501.68,449.03 L501.19,445.85 L500.71,444.42 L500.22,445.65 L499.73,444.55 L499.24,448.24 L498.76,444.91 L498.27,443.89 L497.78,443.93 L497.29,446.05 L496.81,445.1 L496.32,444.73 L495.83,442.47 L495.35,443.66 L494.86,444.11 L494.37,446.54 L493.88,443.62 L493.4,442.05 L492.91,445.48 L492.42,443.91 L491.93,444.24 L491.45,445.19 L490.96,448.39 L490.47,442.31 L489.98,448.93 L489.5,445.91 L489.01,446.61 L488.52,443.32 L488.04,446.01 L487.55,445.77 L487.06,444.4 L486.57,444.38 L486.09,446.67 L485.6,444.6 L485.11,444.68 L484.62,443.35 L484.14,446.47 L483.65,446.35 L483.16,447.15 L482.67,448.46 L482.19,446.34 L481.7,445.38 L481.21,442.78 L480.72,446.08 L480.24,445.44 L479.75,443.53 L479.26,445.91 L478.78,446.24 L478.29,446.2 L477.8,448.14 L477.31,449.44 L476.83,444.98 L476.34,445.86 L475.85,446.73 L475.36,449.73 L474.88,447.5 L474.39,444.42 L473.9,448.91 L473.41,449.69 L472.93,445.32 L472.44,443.29 L471.95,442.43 L471.47,447.08 L470.98,445.84 L470.49,448.63 L470,446.55 L469.52,448.01 L469.03,447.18 L468.54,444.31 L468.05,445.8 L467.57,447.62 L467.08,447.51 L466.59,447.02 L466.1,448.7 L465.62,447.58 L465.13,446.36 L464.64,443.8 L464.15,451.45 L463.67,451.75 L463.18,451.98 L462.69,447.2 L462.21,442.17 L461.72,445.89 L461.23,447.21 L460.74,445.28 L460.26,453.01 L459.77,450.13 L459.28,456.08 L458.79,450.34 L458.31,450.18 L457.82,450.11 L457.33,448.21 L456.84,449.81 L456.36,446.4 L455.87,447.99 L455.38,447.6 L454.9,442.54 L454.41,447.95 L453.92,446.43 L453.43,450.05 L452.95,446.38 L452.46,445.96 L451.97,447.77 L451.48,446.38 L451,444.57 L450.51,444.59 L450.02,447.8 L449.53,448.92 L449.05,446.61 L448.56,451.9 L448.07,451.51 L447.58,448.92 L447.1,447.97 L446.61,444.74 L446.12,444.04 L445.64,447.17 L445.15,447.87 L444.66,452.16 L444.17,450.87 L443.69,449.49 L443.2,450.22 L442.71,449.82 L442.22,448.46 L441.74,451.68 L441.25,451.79 L440.76,454.64 L440.27,448.8 L439.79,452.14 L439.3,454.67" stroke="#ad72e6" stroke-width="1.7" stroke-linejoin="round" fill="none"/>
<path d="M439.3,438.86 L439.79,440.41 L440.27,438.29 L440.76,440.47 L441.25,435.72 L441.74,437.28 L442.22,438.9 L442.71,439.42 L443.2,440.21 L443.69,438.22 L444.17,435.02 L444.66,439.21 L445.15,441.84 L445.64,438.97 L446.12,437.05 L446.61,441.91 L447.1,441.61 L447.58,442.12 L448.07,438.88 L448.56,437.98 L449.05,440.31 L449.53,441.81 L450.02,438.33 L450.51,443.1 L451,438.7 L451.48,439.04 L451.97,434.65 L452.46,435.27 L452.95,438.77 L453.43,439.12 L453.92,439.18 L454.41,440.11 L454.9,438.61 L455.38,436.22 L455.87,440.75 L456.36,439.31 L456.84,435.15 L457.33,435.46 L457.82,438.83 L458.31,439.78 L458.79,440.12 L459.28,441.77 L459.77,436.33 L460.26,436.95 L460.74,438.73 L461.23,440.79 L461.72,439.11 L462.21,438.83 L462.69,433.93 L463.18,437.07 L463.67,436.73 L464.15,434.54 L464.64,434.69 L465.13,436.5 L465.62,441.27 L466.1,434.99 L466.59,434.78 L467.08,436.87 L467.57,436.71 L468.05,438.46 L468.54,438.82 L469.03,440.12 L469.52,436.23 L470,434.97 L470.49,435.28 L470.98,434.03 L471.47,434.13 L471.95,434.99 L472.44,437.34 L472.93,434.85 L473.41,432.79 L473.9,433.3 L474.39,432.09 L474.88,435.35 L475.36,437.36 L475.85,433.15 L476.34,435.75 L476.83,434.72 L477.31,435.29 L477.8,434.95 L478.29,435.43 L478.78,436.09 L479.26,438.89 L479.75,431.82 L480.24,433.28 L480.72,438.2 L481.21,437.46 L481.7,437.65 L482.19,436.84 L482.67,440.4 L483.16,434.76 L483.65,430.76 L484.14,433.52 L484.62,432.19 L485.11,432.05 L485.6,435.88 L486.09,431.74 L486.57,436.63 L487.06,435.68 L487.55,434.89 L488.04,431.16 L488.52,432.42 L489.01,433.26 L489.5,434.91 L489.98,433.45 L490.47,433.06 L490.96,431.39 L491.45,429.4 L491.93,430.12 L492.42,431.79 L492.91,432.58 L493.4,429.01 L493.88,430.83 L494.37,431.77 L494.86,428.12 L495.35,427.43 L495.83,429.27 L496.32,431.18 L496.81,432.8 L497.29,429.59 L497.78,431.78 L498.27,429.35 L498.76,432.23 L499.24,431.09 L499.73,430.01 L500.22,430.13 L500.71,429.87 L501.19,429.37 L501.68,432.3 L502.17,433.05 L502.66,431.12 L503.14,426.29 L503.63,428.83 L504.12,431.19 L504.61,431.22 L505.09,429.65 L505.58,426.64 L506.07,429.33 L506.55,427.64 L507.04,427.82 L507.53,428.92 L508.02,430.39 L508.5,429.04 L508.99,429.74 L509.48,427.17 L509.97,431.17 L510.45,426.13 L510.94,425.3 L511.43,425.32 L511.92,423.27 L512.4,424.45 L512.89,429.59 L513.38,427.29 L513.86,425.65 L514.35,427.46 L514.84,428.84 L515.33,425.83 L515.81,424.66 L516.3,426.18 L516.79,426.14 L517.28,426.58 L517.76,426.74 L518.25,425.6 L518.74,422.75 L519.23,427.47 L519.71,426.09 L520.2,421.43 L520.69,422.67 L521.17,423.28 L521.66,421.92 L522.15,425.29 L522.64,426.63 L523.12,427.88 L523.61,427.72 L524.1,423.95 L524.59,421.44 L525.07,423.26 L525.56,424.19 L526.05,422.02 L526.54,420.77 L527.02,420.99 L527.51,425.47 L528,423.79 L528.49,427.33 L528.97,422.37 L529.46,423.03 L529.95,422.67 L530.43,417.84 L530.92,416.62 L531.41,417.87 L531.9,418.53 L532.38,418.79 L532.87,420.31 L533.36,419.49 L533.85,414.93 L534.33,419.3 L534.82,420.01 L535.31,418.32 L535.8,416.12 L536.28,415.43 L536.77,418.87 L537.26,417.98 L537.74,417.84 L538.23,419.69 L538.72,417.32 L539.21,417.63 L539.69,414.61 L540.18,414.58 L540.67,416.97 L541.16,415.72 L541.64,416.09 L542.13,416.6 L542.62,416.25 L543.11,412.69 L543.59,414.56 L544.08,417.68 L544.57,416.45 L545.06,412.55 L545.54,408.36 L546.03,413.69 L546.52,413.63 L547,413.37 L547.49,415.38 L547.98,411.98 L548.47,411.73 L548.95,410.78 L549.44,406.17 L549.93,409.89 L550.42,408.58 L550.9,407.92 L551.39,410.64 L551.88,411.18 L552.37,406.62 L552.85,406.85 L553.34,407.93 L553.83,410.69 L554.31,407.16 L554.8,406.66 L555.29,402.81 L555.78,402.99 L556.26,404.28 L556.75,405.61 L557.24,406.26 L557.73,407.56 L558.21,405.95 L558.7,405.42 L559.19,404.22 L559.68,402.76 L560.16,403.77 L560.65,405.69 L561.14,403.23 L561.63,400.74 L562.11,404.84 L562.6,403.24 L563.09,402.31 L563.57,401.87 L564.06,401.62 L564.55,402.61 L565.04,402.8 L565.52,399.02 L566.01,397.71 L566.5,403.84 L566.99,407.99 L567.47,402.87 L567.96,403.6 L568.45,403.4 L568.94,405.53 L569.42,401.97 L569.91,401.68 L570.4,402.53 L570.88,399.67 L571.37,395.49 L571.86,396.17 L572.35,396.92 L572.83,400.41 L573.32,399.11 L573.81,400.1 L574.3,397.8 L574.78,398.23 L575.27,399.58 L575.76,398.66 L576.25,400.97 L576.73,398.4 L577.22,396.04 L577.71,399.18 L578.19,398.1 L578.68,402.38 L579.17,398.09 L579.66,396.84 L580.14,400.39 L580.63,395.54 L581.12,397.43 L581.61,401.8 L582.09,402.27 L582.58,397.57 L583.07,398.47 L583.56,395.73 L584.04,400.4 L584.53,398.63 L585.02,395.73 L585.51,398.24 L585.99,396.02 L586.48,397.44 L586.97,396.28 L587.45,395.87 L587.94,391.61 L588.43,397.55 L588.92,394.97 L589.4,392.96 L589.89,397.39 L590.38,396.07 L590.87,390.87 L591.35,391.86 L591.84,400.52 L592.33,397.26 L592.82,399.28 L593.3,395.53 L593.79,396.47 L594.28,396.3 L594.76,396.72 L595.25,394.36 L595.74,395.14 L596.23,396.2 L596.71,394.98 L597.2,393.17 L597.69,395.18 L598.18,391.54 L598.66,396.18 L599.15,393.1 L599.64,393.75 L600.13,389.71 L600.61,393.1 L601.1,394.09 L601.59,395.74 L602.08,389.14 L602.56,389.97 L603.05,393.74 L603.54,393.21 L604.02,394.29 L604.51,389.31 L605,390.07 L605.49,395.39 L605.97,392.18 L606.46,389.65 L606.95,390.74 L607.44,390 L607.92,390.93 L608.41,390.47 L608.9,390.24 L609.39,392.04 L609.87,390.28 L610.36,390.06 L610.85,390.35 L611.33,391.72 L611.82,392.75 L612.31,390.33 L612.8,388.3 L613.28,394.46 L613.77,392.26 L614.26,387.54 L614.75,386.98 L615.23,390.16 L615.72,386.69 L616.21,390.51 L616.7,391.16 L617.18,385.52 L617.67,388.77 L618.16,389.2 L618.65,392.28 L619.13,391.78 L619.62,391.9 L620.11,389.67 L620.59,392.51 L621.08,387.17 L621.57,388.49 L622.06,389.34 L622.54,389.57 L623.03,386.66 L623.52,384.05 L624.01,387.28 L624.49,383.91 L624.98,382.83 L625.47,383 L625.96,385.18 L626.44,389.53 L626.93,386.19 L627.42,387.4 L627.9,386.41 L628.39,390.43 L628.88,388.18 L629.37,386.34 L629.85,388.18 L630.34,386.06 L630.83,382.44 L631.32,384.32 L631.8,386.74 L632.29,380.91 L632.78,388.67 L633.27,388.31 L633.75,385.33 L634.24,386.47 L634.73,390.33 L635.22,386.02 L635.7,383.45 L636.19,386.03 L636.68,381.96 L637.16,382.7 L637.65,381.39 L638.14,386.66 L638.63,384.95 L639.11,380.97 L639.6,378.82 L640.09,379.58 L640.58,382.51 L641.06,382.93 L641.55,384.69 L642.04,381.5 L642.53,384.26 L643.01,383.28 L643.5,387.53" stroke="#3b74e2" stroke-width="1.8" stroke-linejoin="round" fill="none"/>
<path d="M643.5,384.46 L643.01,380.97 L642.53,382.19 L642.04,382.43 L641.55,385.63 L641.06,383.93 L640.58,380.82 L640.09,384.49 L639.6,386.79 L639.11,384.74 L638.63,384.67 L638.14,384.32 L637.65,385.61 L637.16,386.21 L636.68,386.31 L636.19,384.03 L635.7,384.29 L635.22,383.35 L634.73,385.55 L634.24,384.17 L633.75,385.14 L633.27,384.83 L632.78,383.74 L632.29,384.64 L631.8,385.47 L631.32,387.46 L630.83,385.94 L630.34,384.64 L629.85,386.13 L629.37,385.93 L628.88,388.11 L628.39,388.29 L627.9,386.21 L627.42,384.52 L626.93,386.14 L626.44,388.43 L625.96,387.55 L625.47,388.87 L624.98,387.7 L624.49,384.61 L624.01,385.84 L623.52,386.86 L623.03,385.73 L622.54,387.27 L622.06,386.9 L621.57,387.03 L621.08,386.83 L620.59,389.29 L620.11,387.33 L619.62,386.59 L619.13,390.48 L618.65,392.28 L618.16,390.57 L617.67,387.09 L617.18,388 L616.7,387.51 L616.21,387.59 L615.72,387.27 L615.23,389.19 L614.75,389.78 L614.26,388.8 L613.77,388.29 L613.28,388.25 L612.8,388.62 L612.31,389.86 L611.82,388.27 L611.33,388.68 L610.85,388.12 L610.36,392.64 L609.87,389.53 L609.39,393.09 L608.9,390.84 L608.41,391.36 L607.92,390.59 L607.44,391.19 L606.95,391.24 L606.46,390.68 L605.97,390.4 L605.49,391.85 L605,394.58 L604.51,393.24 L604.02,391.21 L603.54,392.46 L603.05,391.28 L602.56,392.02 L602.08,393.05 L601.59,390.73 L601.1,389.48 L600.61,391.44 L600.13,392.04 L599.64,391.04 L599.15,393.78 L598.66,394.13 L598.18,391.76 L597.69,391.46 L597.2,393.26 L596.71,394.28 L596.23,393.24 L595.74,395.29 L595.25,394.85 L594.76,394.48 L594.28,397.34 L593.79,394.38 L593.3,393.38 L592.82,392.79 L592.33,395.95 L591.84,396.8 L591.35,396.56 L590.87,397.23 L590.38,393.21 L589.89,396.01 L589.4,396.1 L588.92,395.57 L588.43,395.19 L587.94,393.91 L587.45,396.9 L586.97,395.37 L586.48,395.95 L585.99,397.94 L585.51,396.94 L585.02,398.75 L584.53,395.49 L584.04,397.66 L583.56,396.17 L583.07,395.46 L582.58,397.82 L582.09,398.99 L581.61,398.09 L581.12,399.43 L580.63,397.4 L580.14,397.82 L579.66,399.24 L579.17,399.65 L578.68,398.03 L578.19,400.45 L577.71,397.2 L577.22,399.51 L576.73,399.52 L576.25,400.56 L575.76,397.66 L575.27,397.91 L574.78,397.45 L574.3,398.23 L573.81,399.28 L573.32,397.61 L572.83,398.52 L572.35,399.18 L571.86,399.28 L571.37,399.19 L570.88,399.84 L570.4,400.69 L569.91,402.89 L569.42,398.9 L568.94,402.14 L568.45,404.3 L567.96,403.17 L567.47,399.48 L566.99,399.39 L566.5,401.81 L566.01,401.49 L565.52,401.86 L565.04,404.6 L564.55,403.46 L564.06,402.51 L563.57,401.26 L563.09,404.15 L562.6,406.58 L562.11,406.6 L561.63,404.32 L561.14,404.15 L560.65,404.19 L560.16,404.39 L559.68,405.3 L559.19,407.06 L558.7,405.41 L558.21,405.18 L557.73,405.05 L557.24,404.33 L556.75,407.52 L556.26,410.1 L555.78,410.33 L555.29,405.49 L554.8,408.19 L554.31,407.48 L553.83,407.99 L553.34,407.36 L552.85,404.12 L552.37,408.19 L551.88,409.14 L551.39,410.17 L550.9,409.56 L550.42,409.21 L549.93,411.23 L549.44,409.04 L548.95,408.79 L548.47,409.81 L547.98,411.03 L547.49,411.74 L547,413.97 L546.52,411.83 L546.03,413.5 L545.54,413.56 L545.06,411.82 L544.57,413.97 L544.08,414.29 L543.59,412.77 L543.11,411.2 L542.62,414.23 L542.13,412.99 L541.64,415.09 L541.16,414.52 L540.67,414.38 L540.18,416.6 L539.69,414.61 L539.21,413.16 L538.72,415.15 L538.23,415.62 L537.74,417.8 L537.26,414.75 L536.77,416.24 L536.28,418.58 L535.8,416.79 L535.31,419.3 L534.82,419.2 L534.33,421.21 L533.85,417.4 L533.36,415.33 L532.87,418.56 L532.38,419.71 L531.9,420.12 L531.41,420.38 L530.92,419.15 L530.43,417.76 L529.95,420.71 L529.46,419.87 L528.97,422.69 L528.49,419.36 L528,420.62 L527.51,421.94 L527.02,419.59 L526.54,421.17 L526.05,419.88 L525.56,420.04 L525.07,419.48 L524.59,422.6 L524.1,422.53 L523.61,422.21 L523.12,422.95 L522.64,421.04 L522.15,423.49 L521.66,422.1 L521.17,421.32 L520.69,425.51 L520.2,425.6 L519.71,425.64 L519.23,425.3 L518.74,424.08 L518.25,424.56 L517.76,424.48 L517.28,425.27 L516.79,425.12 L516.3,424.45 L515.81,424.01 L515.33,425.98 L514.84,425.81 L514.35,426.7 L513.86,426.32 L513.38,427.95 L512.89,425.44 L512.4,425.16 L511.92,426.22 L511.43,427.37 L510.94,427.53 L510.45,427.96 L509.97,429.34 L509.48,425.72 L508.99,422.59 L508.5,427.64 L508.02,429.18 L507.53,427.48 L507.04,427.04 L506.55,429.85 L506.07,431.26 L505.58,428.58 L505.09,431.18 L504.61,427.62 L504.12,429.16 L503.63,428.98 L503.14,429.14 L502.66,430.02 L502.17,429.85 L501.68,430.11 L501.19,428.29 L500.71,429.59 L500.22,430.01 L499.73,430.89 L499.24,431.4 L498.76,431.79 L498.27,431.02 L497.78,428.49 L497.29,428.74 L496.81,430.04 L496.32,428.64 L495.83,429.15 L495.35,430.44 L494.86,431.38 L494.37,432.96 L493.88,431.76 L493.4,432.21 L492.91,434.07 L492.42,434.32 L491.93,430.28 L491.45,431.38 L490.96,431.43 L490.47,431.9 L489.98,432.96 L489.5,432.12 L489.01,431.1 L488.52,432.66 L488.04,432.11 L487.55,431.33 L487.06,433.11 L486.57,432.84 L486.09,433.99 L485.6,432.64 L485.11,433.55 L484.62,431.9 L484.14,433.94 L483.65,431.41 L483.16,433.3 L482.67,434.61 L482.19,435.14 L481.7,433.3 L481.21,434.78 L480.72,431.81 L480.24,431.65 L479.75,432.64 L479.26,435.52 L478.78,434.61 L478.29,435.3 L477.8,436.97 L477.31,434.61 L476.83,431.64 L476.34,434.36 L475.85,433.48 L475.36,432.64 L474.88,435.37 L474.39,435.42 L473.9,434.7 L473.41,434.27 L472.93,436.29 L472.44,435.18 L471.95,435.31 L471.47,434.02 L470.98,437.01 L470.49,436.61 L470,436.46 L469.52,436.22 L469.03,434.84 L468.54,436.24 L468.05,432.32 L467.57,435.69 L467.08,434.73 L466.59,434.26 L466.1,434.24 L465.62,435.8 L465.13,437.14 L464.64,436.84 L464.15,435.6 L463.67,435.99 L463.18,435.55 L462.69,435.48 L462.21,437.41 L461.72,438.1 L461.23,435.27 L460.74,436.98 L460.26,438.97 L459.77,435.13 L459.28,437.54 L458.79,438.44 L458.31,436.28 L457.82,438.42 L457.33,438.77 L456.84,436.43 L456.36,438.21 L455.87,434.46 L455.38,436.52 L454.9,433.82 L454.41,436.39 L453.92,437.3 L453.43,438.54 L452.95,438.41 L452.46,438.78 L451.97,438.32 L451.48,437.2 L451,439.57 L450.51,439.87 L450.02,441.55 L449.53,437.41 L449.05,438.28 L448.56,438.51 L448.07,438.68 L447.58,437.4 L447.1,437.96 L446.61,437.49 L446.12,438.72 L445.64,439.08 L445.15,439.15 L444.66,441.57 L444.17,438.51 L443.69,441.11 L443.2,441.18 L442.71,439.08 L442.22,439.31 L441.74,438.44 L441.25,437.06 L440.76,436.5 L440.27,437 L439.79,439.3 L439.3,437.07" stroke="#3b74e2" stroke-width="1.2" stroke-linejoin="round" fill="none"/>
<path d="M607.3,416.3H633.8" stroke="#ff2020" stroke-width="1.8" stroke-linecap="round"/>
<text x="639.4" y="420.8" font-size="12.6" fill="#1a1a1a">1.6 K</text>
<path d="M607.3,432.8H633.8" stroke="#76cc2e" stroke-width="1.8" stroke-linecap="round"/>
<text x="639.4" y="437.3" font-size="12.6" fill="#1a1a1a">50 K</text>
<path d="M607.3,449.3H633.8" stroke="#ad7c7c" stroke-width="1.8" stroke-linecap="round"/>
<text x="639.4" y="453.8" font-size="12.6" fill="#1a1a1a">100 K</text>
<path d="M607.3,465.8H633.8" stroke="#5cdad3" stroke-width="1.8" stroke-linecap="round"/>
<text x="639.4" y="470.3" font-size="12.6" fill="#1a1a1a">150 K</text>
<path d="M607.3,482.3H633.8" stroke="#ad72e6" stroke-width="1.8" stroke-linecap="round"/>
<text x="639.4" y="486.8" font-size="12.6" fill="#1a1a1a">200 K</text>
<path d="M607.3,498.8H633.8" stroke="#3b74e2" stroke-width="1.8" stroke-linecap="round"/>
<text x="639.4" y="503.3" font-size="12.6" fill="#1a1a1a">225 K</text>
<text x="526.9" y="563" font-size="13.3" fill="#1a1a1a"><tspan font-style="italic">B</tspan> (T)</text>
<text transform="translate(375.8,412) rotate(-90)" font-size="13" text-anchor="middle" fill="#1a1a1a"><tspan font-style="italic">R</tspan><tspan font-size="9" dy="2" font-style="italic">xy</tspan><tspan dy="-2"> (Ω)</tspan></text>
</g>
<g>
<defs><clipPath id="clipInset"><rect x="410.7" y="302.9" width="82.2" height="69.3"/></clipPath><filter id="blurI" x="0" y="0" width="100%" height="100%"><feGaussianBlur stdDeviation="0.35"/></filter></defs>
<g clip-path="url(#clipInset)"><g filter="url(#blurI)">
<rect x="410.7" y="302.9" width="82.2" height="69.3" fill="#5b9de8"/>
<path d="M412,303.3 L430.1,314.7 L434.1,319.4" stroke="#e6918f" stroke-width="2.6" fill="none" stroke-linejoin="round"/>
<path d="M412,303.3 L430.1,314.7 L434.1,319.4" stroke="#f6cdb0" stroke-width="0.9" fill="none" stroke-linejoin="round"/>
<path d="M438.8,302 L442.1,310.7 L442.8,319.4" stroke="#e6918f" stroke-width="2.6" fill="none" stroke-linejoin="round"/>
<path d="M438.8,302 L442.1,310.7 L442.8,319.4" stroke="#f6cdb0" stroke-width="0.9" fill="none" stroke-linejoin="round"/>
<path d="M454.1,302 L450.8,310.7 L450.8,318.7" stroke="#e6918f" stroke-width="2.6" fill="none" stroke-linejoin="round"/>
<path d="M454.1,302 L450.8,310.7 L450.8,318.7" stroke="#f6cdb0" stroke-width="0.9" fill="none" stroke-linejoin="round"/>
<path d="M477.5,303.3 L461.5,314.7 L460.2,318.7" stroke="#e6918f" stroke-width="2.6" fill="none" stroke-linejoin="round"/>
<path d="M477.5,303.3 L461.5,314.7 L460.2,318.7" stroke="#f6cdb0" stroke-width="0.9" fill="none" stroke-linejoin="round"/>
<path d="M433.4,353.5 L421.4,364.2 L412,371.6" stroke="#e6918f" stroke-width="2.6" fill="none" stroke-linejoin="round"/>
<path d="M433.4,353.5 L421.4,364.2 L412,371.6" stroke="#f6cdb0" stroke-width="0.9" fill="none" stroke-linejoin="round"/>
<path d="M442.1,353.5 L442.1,362.9 L439.4,373" stroke="#e6918f" stroke-width="2.6" fill="none" stroke-linejoin="round"/>
<path d="M442.1,353.5 L442.1,362.9 L439.4,373" stroke="#f6cdb0" stroke-width="0.9" fill="none" stroke-linejoin="round"/>
<path d="M451.5,353.5 L452.1,362.9 L456.1,373" stroke="#e6918f" stroke-width="2.6" fill="none" stroke-linejoin="round"/>
<path d="M451.5,353.5 L452.1,362.9 L456.1,373" stroke="#f6cdb0" stroke-width="0.9" fill="none" stroke-linejoin="round"/>
<path d="M460.8,353.5 L472.2,362.9 L484.2,372.2" stroke="#e6918f" stroke-width="2.6" fill="none" stroke-linejoin="round"/>
<path d="M460.8,353.5 L472.2,362.9 L484.2,372.2" stroke="#f6cdb0" stroke-width="0.9" fill="none" stroke-linejoin="round"/>
<polygon points="430.3,313 436.5,317 436.5,327 431,326.5 429.6,320" fill="#f4d7a8"/>
<polygon points="459.5,314.5 463.5,313.5 464,320 458.5,320" fill="#f4d7a8"/>
<polygon points="430.5,353 436.5,352 435,358 430,357.5" fill="#f4c9a4"/>
<polygon points="458.5,353 463.5,353 465,357 459.5,357.5" fill="#f4c9a4"/>
<polygon points="434.1,319.4 470.9,318.7 474.9,322.7 480.2,327.4 488.2,331.4 488.9,334.8 486.2,338.1 484.2,344.1 481.6,347.5 465.5,348.8 460.8,353.5 432.1,354.8 417.4,359.5 413.3,357.5 415.4,350.8 421.4,344.1 428.1,333.4 430.7,326.7" fill="#b3c4d1" stroke="#7d95c4" stroke-width="0.7"/>
<polygon points="421.4,346 432.1,354.8 417.4,359.5 413.3,357.5 415.4,350.8" fill="#90abcf" opacity="0.85"/>
<polygon points="430.3,319.5 436.1,319 436.1,354 430.3,354.5" fill="#8e96a3" opacity="0.38"/>
<polygon points="440.8,319.5 444.8,319 444.8,354 440.8,354.5" fill="#8e96a3" opacity="0.38"/>
<polygon points="449.5,319.5 454.1,319 454.1,354 449.5,354.5" fill="#8e96a3" opacity="0.38"/>
<polygon points="458.2,319.5 463.5,319 463.5,354 458.2,354.5" fill="#8e96a3" opacity="0.38"/>
<polygon points="450,350.2 454,350 454,354.2 450,354.5" fill="#a24a7a" opacity="0.85"/>
<polygon points="458.3,350.2 463.5,350 463.5,354.2 458.3,354.5" fill="#a24a7a" opacity="0.85"/>
<rect x="469.8" y="365.9" width="19.1" height="2.6" fill="#ffffff"/>
</g></g>
</g>
</svg></body></html>
